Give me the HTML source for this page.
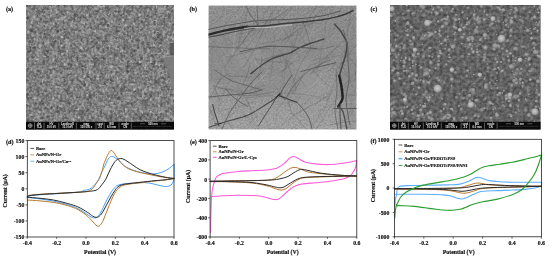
<!DOCTYPE html><html><head><meta charset="utf-8"><title>Figure</title>
<style>html,body{margin:0;padding:0;background:#fff}svg{display:block}text{font-family:"Liberation Serif","DejaVu Serif",serif;font-weight:bold;fill:#111;stroke:#111;stroke-width:0.16px}.bt{stroke:none}</style></head><body>
<svg width="550" height="258" viewBox="0 0 550 258">
<defs>
<filter id="fa" x="0" y="0" width="100%" height="100%" color-interpolation-filters="sRGB">
<feTurbulence type="fractalNoise" baseFrequency="0.38" numOctaves="2" seed="3"/>
<feColorMatrix type="matrix" values="1 0 0 0 0  1 0 0 0 0  1 0 0 0 0  0 0 0 0 1" result="a1"/>
<feTurbulence type="fractalNoise" baseFrequency="0.14" numOctaves="1" seed="8"/>
<feColorMatrix type="matrix" values="1 0 0 0 0  1 0 0 0 0  1 0 0 0 0  0 0 0 0 1" result="a2"/>
<feComposite in="a1" in2="a2" operator="arithmetic" k1="0" k2="0.44" k3="0.24" k4="0.15"/>
<feColorMatrix type="matrix" values="0.83 0 0 0 0  0.83 0 0 0 0  0.83 0 0 0 0  0 0 0 0 1"/>
<feGaussianBlur stdDeviation="0.25" result="base"/>
<feTurbulence type="fractalNoise" baseFrequency="0.36" numOctaves="1" seed="21"/>
<feColorMatrix type="matrix" values="0 0 0 0 0.72  0 0 0 0 0.72  0 0 0 0 0.72  5 0 0 0 -2.95" result="br"/>
<feTurbulence type="fractalNoise" baseFrequency="0.3" numOctaves="1" seed="33"/>
<feColorMatrix type="matrix" values="0 0 0 0 0.29  0 0 0 0 0.29  0 0 0 0 0.29  -5 0 0 0 2.03" result="dk"/>
<feMerge><feMergeNode in="base"/><feMergeNode in="dk"/><feMergeNode in="br"/></feMerge>
</filter>
<filter id="fb" x="0" y="0" width="100%" height="100%" color-interpolation-filters="sRGB">
<feTurbulence type="fractalNoise" baseFrequency="0.6" numOctaves="1" seed="5" result="n"/>
<feColorMatrix in="n" type="matrix" values="0.5 0 0 0 0.32  0.5 0 0 0 0.32  0.5 0 0 0 0.32  0 0 0 0 1"/>
</filter>
<filter id="fc" x="0" y="0" width="100%" height="100%" color-interpolation-filters="sRGB">
<feTurbulence type="fractalNoise" baseFrequency="0.3" numOctaves="2" seed="11" result="n"/>
<feColorMatrix in="n" type="matrix" values="0.36 0 0 0 0.205  0.36 0 0 0 0.205  0.36 0 0 0 0.205  0 0 0 0 1"/>
</filter>
<filter id="bl1" x="-20%" y="-20%" width="140%" height="140%"><feGaussianBlur stdDeviation="0.45"/></filter>
<filter id="bl2" x="-20%" y="-20%" width="140%" height="140%"><feGaussianBlur stdDeviation="0.8"/></filter>
<filter id="bl4" x="-20%" y="-20%" width="140%" height="140%"><feGaussianBlur stdDeviation="3"/></filter>
<filter id="bl5" x="-20%" y="-20%" width="140%" height="140%"><feGaussianBlur stdDeviation="0.55"/></filter>
<filter id="bl3" x="-20%" y="-20%" width="140%" height="140%"><feGaussianBlur stdDeviation="0.3"/></filter>
<radialGradient id="gb" cx="45%" cy="40%" r="60%"><stop offset="0" stop-color="#cacaca"/><stop offset="0.6" stop-color="#a8a8a8"/><stop offset="1" stop-color="#808080" stop-opacity="0.1"/></radialGradient>
<radialGradient id="gs" cx="45%" cy="40%" r="60%"><stop offset="0" stop-color="#b4b4b4"/><stop offset="0.55" stop-color="#9c9c9c" stop-opacity="0.85"/><stop offset="1" stop-color="#808080" stop-opacity="0"/></radialGradient>
<linearGradient id="gbg" x1="0" y1="0" x2="0" y2="1"><stop offset="0" stop-color="#8b8b8b"/><stop offset="0.55" stop-color="#919191"/><stop offset="1" stop-color="#acacac"/></linearGradient>
<clipPath id="ca"><rect x="26" y="5" width="148" height="124.5"/></clipPath>
<clipPath id="cb"><rect x="208.5" y="5.5" width="148" height="124"/></clipPath>
<clipPath id="cc"><rect x="390" y="5" width="150.5" height="124.5"/></clipPath>
</defs>
<rect width="550" height="258" fill="#fff"/>
<text x="5.90" y="10.90" font-size="6.2">(a)</text>
<text x="189.50" y="10.90" font-size="6.2">(b)</text>
<text x="370.50" y="10.90" font-size="6.2">(c)</text>
<g clip-path="url(#ca)">
<rect x="26" y="5" width="148" height="124.5" fill="#7c7c7c"/>
<rect x="26" y="5" width="148" height="124.5" filter="url(#fa)"/>
<path d="M162.5 57.2 L175 55.5 L175 93.5 L172 86 L170 78 L168 70 L165 63 Z" fill="#7b7b7b" opacity="0.92" filter="url(#bl1)"/>
<path d="M160 57.6 L174.5 55.6" stroke="#b4b4b4" stroke-width="0.7" opacity="0.7" filter="url(#bl1)"/>
<rect x="169.6" y="43" width="6" height="12.3" fill="#595959" opacity="0.85" filter="url(#bl1)"/>
<path d="M131.5 60.5 l4 3.5 l3.5 -1.5 M135.5 64 l-1.5 4.5 M135.5 64 l3.5 2.5" stroke="#3e3e3e" stroke-width="0.9" fill="none" opacity="0.5" filter="url(#bl1)"/>
</g>
<g clip-path="url(#cb)">
<rect x="208.5" y="5.5" width="148" height="124" fill="url(#gbg)"/>
<rect x="208.5" y="5.5" width="148" height="124" filter="url(#fb)" opacity="0.45"/>
<g filter="url(#bl4)">
<polygon points="208,40 260,30 340,22 335,60 300,95 240,100 208,80" fill="#808080" opacity="0.35"/>
<polygon points="345,20 357,12 357,130 346,130 340,80" fill="#808080" opacity="0.4"/>
<polygon points="230,45 262,38 268,60 240,70" fill="#9e9e9e" opacity="0.4"/>
<polygon points="290,60 330,62 335,90 300,98" fill="#9c9c9c" opacity="0.4"/>
</g>
<g fill="none" filter="url(#bl1)"><path d="M253.9 35.2 Q251.5 24.0 255.8 14.0" stroke="#4c4c4c" stroke-width="0.45" opacity="0.33"/><path d="M329.9 32.1 Q338.1 26.0 340.6 23.2" stroke="#707070" stroke-width="0.70" opacity="0.37"/><path d="M289.6 95.7 Q289.3 90.2 293.7 81.8" stroke="#686868" stroke-width="0.83" opacity="0.34"/><path d="M344.4 59.2 Q364.4 74.5 380.6 93.2" stroke="#666" stroke-width="0.46" opacity="0.33"/><path d="M319.3 35.3 Q328.6 27.1 340.3 18.9" stroke="#b4b4b4" stroke-width="0.44" opacity="0.23"/><path d="M245.8 97.5 Q250.6 109.5 257.3 118.8" stroke="#5a5a5a" stroke-width="0.92" opacity="0.31"/><path d="M297.2 74.3 Q301.3 81.0 306.1 86.9" stroke="#707070" stroke-width="0.85" opacity="0.46"/><path d="M247.0 65.3 Q260.6 57.9 281.9 45.1" stroke="#707070" stroke-width="0.54" opacity="0.20"/><path d="M268.3 60.1 Q287.0 63.5 299.9 59.8" stroke="#686868" stroke-width="0.62" opacity="0.32"/><path d="M277.7 63.7 Q280.8 59.1 289.4 60.8" stroke="#585858" stroke-width="0.74" opacity="0.22"/><path d="M236.4 60.9 Q250.7 83.9 265.6 107.2" stroke="#666" stroke-width="0.48" opacity="0.42"/><path d="M316.8 72.6 Q323.4 45.7 325.9 22.1" stroke="#666" stroke-width="0.78" opacity="0.28"/><path d="M260.4 37.0 Q279.9 23.0 294.4 5.1" stroke="#4c4c4c" stroke-width="0.51" opacity="0.35"/><path d="M315.4 130.8 Q329.2 106.6 345.2 86.9" stroke="#4c4c4c" stroke-width="0.66" opacity="0.30"/><path d="M277.9 130.3 Q305.7 132.7 329.0 131.1" stroke="#b4b4b4" stroke-width="0.89" opacity="0.33"/><path d="M301.0 27.9 Q305.8 19.4 316.6 16.5" stroke="#b4b4b4" stroke-width="0.84" opacity="0.24"/><path d="M329.8 129.8 Q350.6 130.0 364.4 131.3" stroke="#4c4c4c" stroke-width="0.85" opacity="0.26"/><path d="M243.0 51.4 Q259.4 33.6 273.2 10.8" stroke="#686868" stroke-width="0.85" opacity="0.46"/><path d="M224.7 35.3 Q232.9 32.2 241.5 25.5" stroke="#5a5a5a" stroke-width="0.58" opacity="0.36"/><path d="M288.9 107.4 Q289.8 95.6 298.2 77.4" stroke="#666" stroke-width="0.64" opacity="0.38"/><path d="M281.3 76.4 Q293.5 51.2 298.5 29.8" stroke="#4c4c4c" stroke-width="0.86" opacity="0.24"/><path d="M223.4 68.4 Q239.9 46.1 254.1 26.0" stroke="#606060" stroke-width="0.89" opacity="0.49"/><path d="M238.2 126.6 Q246.3 151.9 255.9 178.4" stroke="#585858" stroke-width="0.58" opacity="0.42"/><path d="M207.9 81.2 Q219.7 78.3 224.7 79.7" stroke="#666" stroke-width="0.45" opacity="0.28"/><path d="M341.8 38.7 Q349.0 47.6 349.5 55.4" stroke="#585858" stroke-width="0.45" opacity="0.22"/><path d="M308.9 66.5 Q318.4 62.6 322.0 59.5" stroke="#585858" stroke-width="0.95" opacity="0.33"/><path d="M343.2 88.9 Q350.0 81.2 359.8 76.5" stroke="#4c4c4c" stroke-width="0.56" opacity="0.35"/><path d="M231.9 57.6 Q239.9 43.4 252.1 30.1" stroke="#686868" stroke-width="0.76" opacity="0.36"/><path d="M339.2 128.6 Q346.4 113.0 356.1 104.5" stroke="#707070" stroke-width="0.41" opacity="0.39"/><path d="M337.9 67.1 Q340.2 56.3 345.8 46.1" stroke="#707070" stroke-width="0.55" opacity="0.20"/><path d="M260.0 55.5 Q262.8 50.6 267.6 46.1" stroke="#4c4c4c" stroke-width="0.54" opacity="0.43"/><path d="M218.7 111.1 Q236.9 108.3 254.6 101.5" stroke="#686868" stroke-width="0.82" opacity="0.42"/><path d="M279.6 50.4 Q290.7 67.5 296.8 90.4" stroke="#5a5a5a" stroke-width="0.85" opacity="0.38"/><path d="M339.8 95.9 Q353.5 93.2 368.0 97.7" stroke="#5a5a5a" stroke-width="0.74" opacity="0.40"/><path d="M278.9 18.4 Q300.5 23.7 322.6 24.0" stroke="#606060" stroke-width="0.53" opacity="0.43"/><path d="M239.8 92.1 Q260.2 87.3 278.3 89.3" stroke="#707070" stroke-width="0.58" opacity="0.40"/><path d="M309.6 88.8 Q322.5 74.4 338.6 59.8" stroke="#b4b4b4" stroke-width="0.66" opacity="0.43"/><path d="M355.0 80.6 Q357.1 52.0 360.0 27.2" stroke="#4c4c4c" stroke-width="0.90" opacity="0.48"/><path d="M216.3 28.3 Q234.1 7.0 248.7 -9.9" stroke="#b4b4b4" stroke-width="0.62" opacity="0.25"/><path d="M348.4 95.7 Q354.5 94.0 356.6 86.8" stroke="#666" stroke-width="0.92" opacity="0.26"/><path d="M206.8 102.3 Q216.3 121.8 220.1 144.8" stroke="#5a5a5a" stroke-width="0.86" opacity="0.29"/><path d="M346.3 46.4 Q370.4 45.3 392.3 37.5" stroke="#4c4c4c" stroke-width="0.80" opacity="0.21"/><path d="M315.6 69.4 Q322.4 61.6 330.6 57.2" stroke="#606060" stroke-width="0.81" opacity="0.49"/><path d="M244.3 92.8 Q259.2 81.9 269.1 70.2" stroke="#b4b4b4" stroke-width="0.90" opacity="0.50"/><path d="M272.9 33.9 Q285.5 12.1 302.8 -2.1" stroke="#686868" stroke-width="0.61" opacity="0.42"/><path d="M236.7 48.8 Q245.0 27.7 247.4 11.2" stroke="#606060" stroke-width="0.89" opacity="0.32"/><path d="M302.5 67.2 Q321.4 82.7 340.5 105.1" stroke="#b4b4b4" stroke-width="0.93" opacity="0.27"/><path d="M221.5 35.6 Q226.7 38.8 227.6 50.0" stroke="#707070" stroke-width="0.53" opacity="0.48"/><path d="M302.5 52.6 Q318.0 46.8 326.5 45.9" stroke="#606060" stroke-width="0.52" opacity="0.38"/><path d="M206.6 52.4 Q218.6 43.5 238.1 36.1" stroke="#606060" stroke-width="0.43" opacity="0.26"/><path d="M338.6 91.8 Q352.1 75.2 367.7 60.3" stroke="#5a5a5a" stroke-width="0.84" opacity="0.42"/><path d="M281.2 41.4 Q289.3 37.8 295.3 32.4" stroke="#4c4c4c" stroke-width="0.67" opacity="0.47"/><path d="M213.5 85.8 Q222.9 89.5 233.0 89.8" stroke="#585858" stroke-width="0.80" opacity="0.50"/><path d="M345.7 55.5 Q367.6 70.9 381.8 87.3" stroke="#666" stroke-width="0.40" opacity="0.28"/><path d="M258.1 126.9 Q264.4 130.8 267.5 139.6" stroke="#b4b4b4" stroke-width="0.51" opacity="0.31"/><path d="M340.4 21.5 Q360.1 16.6 386.7 16.6" stroke="#666" stroke-width="0.89" opacity="0.30"/><path d="M246.1 127.2 Q268.4 130.1 289.1 128.0" stroke="#666" stroke-width="0.41" opacity="0.27"/><path d="M276.8 127.1 Q284.7 137.2 287.8 143.6" stroke="#707070" stroke-width="0.73" opacity="0.30"/><path d="M253.3 59.3 Q272.9 62.0 292.9 64.0" stroke="#707070" stroke-width="0.94" opacity="0.47"/><path d="M354.2 48.2 Q358.4 43.7 363.2 32.9" stroke="#4c4c4c" stroke-width="0.81" opacity="0.45"/><path d="M305.3 31.8 Q312.3 17.5 324.3 7.4" stroke="#606060" stroke-width="0.89" opacity="0.37"/><path d="M254.3 63.2 Q262.0 67.7 270.2 67.1" stroke="#b4b4b4" stroke-width="0.90" opacity="0.21"/><path d="M249.3 31.6 Q261.4 26.8 277.3 17.5" stroke="#5a5a5a" stroke-width="0.46" opacity="0.38"/><path d="M298.6 42.8 Q313.7 22.2 323.7 3.0" stroke="#585858" stroke-width="0.50" opacity="0.29"/><path d="M235.7 108.7 Q234.9 102.5 239.4 93.2" stroke="#686868" stroke-width="0.94" opacity="0.40"/><path d="M268.1 23.9 Q280.6 8.4 294.9 -5.5" stroke="#5a5a5a" stroke-width="0.64" opacity="0.25"/><path d="M222.1 28.3 Q238.3 10.0 247.9 -1.7" stroke="#585858" stroke-width="0.81" opacity="0.25"/><path d="M257.5 36.4 Q266.4 21.9 269.8 14.7" stroke="#b4b4b4" stroke-width="0.57" opacity="0.38"/><path d="M301.1 27.8 Q308.6 16.6 310.6 0.0" stroke="#707070" stroke-width="0.71" opacity="0.21"/><path d="M346.7 35.8 Q351.2 13.3 352.9 -12.0" stroke="#585858" stroke-width="0.46" opacity="0.38"/><path d="M288.1 89.5 Q294.9 99.5 306.9 117.4" stroke="#b4b4b4" stroke-width="0.66" opacity="0.33"/><path d="M298.4 111.4 Q303.3 105.5 309.0 99.5" stroke="#5a5a5a" stroke-width="0.42" opacity="0.24"/><path d="M344.2 53.8 Q344.0 49.0 350.8 42.4" stroke="#666" stroke-width="0.51" opacity="0.49"/><path d="M279.3 127.1 Q293.2 115.0 311.1 105.9" stroke="#606060" stroke-width="0.90" opacity="0.34"/><path d="M243.4 127.9 Q248.2 124.9 258.3 114.9" stroke="#585858" stroke-width="0.89" opacity="0.25"/><path d="M323.5 31.1 Q331.6 8.9 333.3 -9.3" stroke="#686868" stroke-width="0.81" opacity="0.31"/><path d="M261.7 60.1 Q273.8 55.3 285.6 53.6" stroke="#585858" stroke-width="0.80" opacity="0.42"/><path d="M238.5 51.2 Q239.0 27.6 247.1 12.0" stroke="#585858" stroke-width="0.57" opacity="0.36"/><path d="M285.7 65.1 Q309.4 57.9 337.2 56.3" stroke="#666" stroke-width="0.44" opacity="0.24"/><path d="M305.5 48.8 Q311.6 33.5 318.7 11.2" stroke="#b4b4b4" stroke-width="0.54" opacity="0.47"/><path d="M211.6 78.6 Q210.7 57.8 214.6 38.5" stroke="#686868" stroke-width="0.85" opacity="0.25"/><path d="M251.7 52.2 Q260.1 74.4 269.1 92.7" stroke="#b4b4b4" stroke-width="0.50" opacity="0.50"/><path d="M244.5 91.4 Q256.2 87.7 267.0 85.0" stroke="#606060" stroke-width="0.56" opacity="0.48"/><path d="M340.0 27.7 Q350.7 12.4 364.2 -9.1" stroke="#585858" stroke-width="0.73" opacity="0.31"/><path d="M333.6 123.1 Q356.9 130.7 381.1 134.6" stroke="#606060" stroke-width="0.83" opacity="0.32"/><path d="M293.4 82.4 Q299.6 61.0 313.3 45.3" stroke="#5a5a5a" stroke-width="0.78" opacity="0.42"/><path d="M214.9 85.3 Q215.0 90.2 219.7 101.2" stroke="#5a5a5a" stroke-width="0.92" opacity="0.47"/><path d="M318.8 28.0 Q327.0 18.2 337.9 12.3" stroke="#585858" stroke-width="0.54" opacity="0.28"/><path d="M313.1 60.0 Q332.0 56.5 358.4 52.8" stroke="#666" stroke-width="0.59" opacity="0.41"/><path d="M286.2 42.7 Q294.4 28.6 298.6 21.6" stroke="#585858" stroke-width="0.67" opacity="0.35"/><path d="M325.3 39.0 Q348.8 24.4 365.2 14.1" stroke="#707070" stroke-width="0.46" opacity="0.39"/><path d="M217.2 107.8 Q234.2 127.4 247.3 148.2" stroke="#5a5a5a" stroke-width="0.60" opacity="0.29"/><path d="M269.6 80.1 Q274.1 59.2 274.5 35.9" stroke="#585858" stroke-width="0.72" opacity="0.36"/><path d="M336.1 69.3 Q341.2 65.6 347.0 55.8" stroke="#4c4c4c" stroke-width="0.68" opacity="0.28"/><path d="M319.0 112.2 Q326.0 105.5 335.9 103.7" stroke="#666" stroke-width="0.49" opacity="0.40"/><path d="M234.5 35.2 Q249.2 31.8 257.8 29.0" stroke="#5a5a5a" stroke-width="0.62" opacity="0.44"/><path d="M309.7 75.1 Q327.0 57.4 345.3 38.5" stroke="#686868" stroke-width="0.87" opacity="0.40"/><path d="M303.5 118.0 Q313.3 124.1 320.9 136.6" stroke="#686868" stroke-width="0.53" opacity="0.32"/><path d="M312.6 35.8 Q329.1 14.1 348.3 0.1" stroke="#b4b4b4" stroke-width="0.90" opacity="0.23"/><path d="M242.9 42.8 Q255.3 57.0 264.1 71.0" stroke="#585858" stroke-width="0.69" opacity="0.32"/><path d="M348.1 42.0 Q362.4 29.8 380.6 19.6" stroke="#5a5a5a" stroke-width="0.41" opacity="0.33"/><path d="M268.5 97.6 Q281.7 76.1 287.1 47.1" stroke="#b4b4b4" stroke-width="0.52" opacity="0.24"/><path d="M322.3 110.3 Q340.0 99.0 352.4 83.0" stroke="#686868" stroke-width="0.66" opacity="0.29"/><path d="M287.8 32.3 Q312.4 18.0 334.1 4.0" stroke="#606060" stroke-width="0.60" opacity="0.40"/><path d="M253.4 73.3 Q261.0 81.7 263.4 83.6" stroke="#707070" stroke-width="0.69" opacity="0.30"/><path d="M293.0 92.9 Q297.5 86.5 302.8 75.6" stroke="#4c4c4c" stroke-width="0.90" opacity="0.44"/><path d="M230.4 119.6 Q240.0 113.5 246.5 106.9" stroke="#b4b4b4" stroke-width="0.77" opacity="0.24"/><path d="M222.9 65.8 Q226.2 76.2 234.8 85.0" stroke="#5a5a5a" stroke-width="0.49" opacity="0.30"/><path d="M310.1 74.7 Q324.9 56.9 337.6 46.5" stroke="#5a5a5a" stroke-width="0.78" opacity="0.48"/><path d="M254.9 129.9 Q267.2 119.5 273.7 111.1" stroke="#b4b4b4" stroke-width="0.83" opacity="0.37"/><path d="M342.8 50.4 Q352.1 60.0 361.3 73.2" stroke="#585858" stroke-width="0.94" opacity="0.40"/><path d="M324.6 55.7 Q339.4 52.7 353.4 51.1" stroke="#5a5a5a" stroke-width="0.62" opacity="0.23"/><path d="M212.0 111.7 Q223.0 129.7 232.0 144.6" stroke="#666" stroke-width="0.52" opacity="0.40"/><path d="M274.1 104.9 Q290.1 103.3 300.8 97.0" stroke="#606060" stroke-width="0.87" opacity="0.26"/><path d="M210.2 20.3 Q232.2 21.7 255.4 19.9" stroke="#686868" stroke-width="0.65" opacity="0.20"/><path d="M263.5 85.5 Q266.7 90.3 275.4 102.9" stroke="#5a5a5a" stroke-width="0.41" opacity="0.40"/><path d="M354.0 115.9 Q365.4 129.0 381.8 149.4" stroke="#707070" stroke-width="0.80" opacity="0.23"/><path d="M299.9 98.9 Q310.3 99.8 314.5 97.8" stroke="#666" stroke-width="0.61" opacity="0.29"/><path d="M295.6 127.2 Q297.9 149.4 306.0 167.0" stroke="#585858" stroke-width="0.92" opacity="0.25"/><path d="M326.1 72.4 Q334.3 68.2 334.9 60.7" stroke="#585858" stroke-width="0.88" opacity="0.42"/><path d="M207.3 35.2 Q222.9 52.0 232.1 63.9" stroke="#606060" stroke-width="0.78" opacity="0.30"/><path d="M245.5 35.9 Q250.3 29.2 247.5 17.7" stroke="#b4b4b4" stroke-width="0.59" opacity="0.23"/><path d="M288.6 108.9 Q296.8 119.0 309.7 133.0" stroke="#5a5a5a" stroke-width="0.84" opacity="0.34"/><path d="M218.2 109.9 Q222.5 95.4 226.8 85.6" stroke="#4c4c4c" stroke-width="0.51" opacity="0.25"/><path d="M310.9 59.4 Q317.5 70.5 330.5 79.4" stroke="#666" stroke-width="0.49" opacity="0.38"/><path d="M257.1 77.2 Q262.8 65.1 261.6 56.5" stroke="#666" stroke-width="0.92" opacity="0.43"/><path d="M328.6 127.8 Q334.2 128.2 341.9 125.2" stroke="#b4b4b4" stroke-width="0.92" opacity="0.47"/><path d="M214.7 86.2 Q242.4 82.4 267.5 80.3" stroke="#b4b4b4" stroke-width="0.87" opacity="0.31"/><path d="M240.5 100.2 Q260.2 96.6 287.1 88.4" stroke="#b4b4b4" stroke-width="0.43" opacity="0.24"/><path d="M319.0 125.1 Q328.7 114.9 340.1 106.7" stroke="#686868" stroke-width="0.49" opacity="0.27"/><path d="M226.6 95.3 Q233.7 89.7 239.0 86.2" stroke="#707070" stroke-width="0.83" opacity="0.49"/><path d="M344.8 61.9 Q360.4 53.2 381.6 49.0" stroke="#5a5a5a" stroke-width="0.50" opacity="0.34"/><path d="M339.3 68.0 Q344.4 57.3 354.9 46.7" stroke="#585858" stroke-width="0.65" opacity="0.34"/><path d="M228.2 76.5 Q237.3 75.8 251.2 77.2" stroke="#606060" stroke-width="0.95" opacity="0.48"/><path d="M219.7 51.0 Q235.0 54.0 250.2 56.8" stroke="#b4b4b4" stroke-width="0.40" opacity="0.45"/><path d="M284.5 39.2 Q297.4 28.2 314.6 22.5" stroke="#666" stroke-width="0.86" opacity="0.47"/><path d="M315.4 104.8 Q320.0 100.3 331.7 92.0" stroke="#686868" stroke-width="0.86" opacity="0.47"/><path d="M283.3 57.6 Q291.0 61.7 296.2 69.8" stroke="#585858" stroke-width="0.42" opacity="0.41"/><path d="M291.8 115.8 Q315.5 103.2 333.3 93.5" stroke="#686868" stroke-width="0.72" opacity="0.47"/><path d="M249.0 30.3 Q265.3 8.3 286.0 -8.5" stroke="#666" stroke-width="0.57" opacity="0.37"/><path d="M349.3 20.2 Q356.4 33.4 360.3 52.9" stroke="#666" stroke-width="0.79" opacity="0.21"/><path d="M223.6 74.3 Q222.6 64.8 226.0 52.6" stroke="#b4b4b4" stroke-width="0.81" opacity="0.25"/><path d="M329.7 124.9 Q351.0 120.2 374.8 119.6" stroke="#585858" stroke-width="0.79" opacity="0.45"/><path d="M290.2 130.4 Q298.0 123.8 307.1 115.1" stroke="#585858" stroke-width="0.46" opacity="0.26"/><path d="M254.0 40.9 Q267.7 60.0 276.5 73.0" stroke="#5a5a5a" stroke-width="0.42" opacity="0.39"/><path d="M245.1 95.3 Q243.9 85.4 247.0 82.9" stroke="#666" stroke-width="0.57" opacity="0.39"/><path d="M223.2 85.7 Q234.4 78.1 245.5 64.3" stroke="#686868" stroke-width="0.72" opacity="0.28"/><path d="M316.1 102.4 Q319.8 81.9 324.0 60.6" stroke="#b4b4b4" stroke-width="0.66" opacity="0.29"/><path d="M241.6 43.3 Q248.7 31.7 258.7 23.8" stroke="#4c4c4c" stroke-width="0.56" opacity="0.43"/><path d="M228.9 25.6 Q249.8 30.0 262.8 31.5" stroke="#707070" stroke-width="0.63" opacity="0.40"/><path d="M226.2 41.1 Q235.8 50.3 243.2 57.3" stroke="#707070" stroke-width="0.63" opacity="0.23"/><path d="M267.0 80.7 Q290.1 68.9 311.5 58.9" stroke="#b4b4b4" stroke-width="0.78" opacity="0.29"/><path d="M258.2 58.2 Q267.5 67.7 279.9 76.6" stroke="#707070" stroke-width="0.64" opacity="0.31"/><path d="M240.0 111.7 Q260.1 126.9 272.9 149.7" stroke="#606060" stroke-width="0.71" opacity="0.35"/><path d="M344.0 106.2 Q348.4 121.3 360.3 133.7" stroke="#b4b4b4" stroke-width="0.92" opacity="0.40"/><path d="M284.3 29.3 Q291.7 44.7 300.0 58.2" stroke="#585858" stroke-width="0.78" opacity="0.42"/><path d="M218.9 59.3 Q234.5 47.0 244.9 26.8" stroke="#686868" stroke-width="0.75" opacity="0.36"/><path d="M328.2 41.7 Q332.1 10.8 333.9 -12.8" stroke="#686868" stroke-width="0.41" opacity="0.20"/><path d="M312.3 81.0 Q323.9 66.7 334.6 56.1" stroke="#707070" stroke-width="0.72" opacity="0.32"/><path d="M223.3 35.9 Q239.0 46.3 249.8 63.7" stroke="#5a5a5a" stroke-width="0.78" opacity="0.37"/><path d="M226.7 45.2 Q239.6 41.8 253.3 40.2" stroke="#5a5a5a" stroke-width="0.52" opacity="0.32"/><path d="M320.4 23.0 Q331.0 15.2 335.3 2.3" stroke="#606060" stroke-width="0.63" opacity="0.28"/><path d="M338.9 129.7 Q350.5 153.9 362.3 173.4" stroke="#4c4c4c" stroke-width="0.45" opacity="0.25"/><path d="M262.2 18.9 Q268.3 4.7 281.3 -3.4" stroke="#585858" stroke-width="0.70" opacity="0.32"/><path d="M275.5 57.3 Q278.5 53.6 285.2 44.6" stroke="#707070" stroke-width="0.71" opacity="0.34"/><path d="M325.0 45.4 Q342.8 23.6 360.5 6.1" stroke="#b4b4b4" stroke-width="0.77" opacity="0.48"/><path d="M355.7 85.9 Q374.9 75.1 400.1 64.1" stroke="#606060" stroke-width="0.80" opacity="0.43"/><path d="M209.3 99.9 Q216.6 85.3 221.3 77.0" stroke="#585858" stroke-width="0.84" opacity="0.43"/><path d="M234.1 99.9 Q250.2 121.4 260.1 137.0" stroke="#707070" stroke-width="0.92" opacity="0.25"/><path d="M260.4 109.1 Q266.8 119.0 271.3 134.0" stroke="#666" stroke-width="0.55" opacity="0.38"/><path d="M238.1 95.2 Q256.9 96.8 273.6 91.4" stroke="#4c4c4c" stroke-width="0.71" opacity="0.41"/><path d="M243.5 67.6 Q258.0 45.7 266.5 22.4" stroke="#5a5a5a" stroke-width="0.94" opacity="0.40"/><path d="M210.6 54.3 Q215.8 28.2 224.4 8.7" stroke="#686868" stroke-width="0.64" opacity="0.30"/><path d="M281.0 96.5 Q286.4 72.4 287.4 48.5" stroke="#4c4c4c" stroke-width="0.42" opacity="0.41"/><path d="M326.7 47.8 Q335.1 44.3 345.9 47.4" stroke="#606060" stroke-width="0.48" opacity="0.41"/><path d="M278.5 73.0 Q287.2 68.4 292.6 62.3" stroke="#4c4c4c" stroke-width="0.58" opacity="0.44"/><path d="M287.8 104.7 Q292.8 98.4 301.1 94.2" stroke="#4c4c4c" stroke-width="0.42" opacity="0.47"/><path d="M250.9 30.6 Q252.7 18.6 261.4 14.5" stroke="#b4b4b4" stroke-width="0.45" opacity="0.42"/><path d="M353.0 82.3 Q362.9 76.7 379.4 74.5" stroke="#606060" stroke-width="0.76" opacity="0.22"/><path d="M317.9 20.9 Q324.0 12.4 326.6 7.0" stroke="#585858" stroke-width="0.61" opacity="0.39"/><path d="M258.8 44.2 Q277.4 42.0 293.9 34.6" stroke="#686868" stroke-width="0.90" opacity="0.48"/><path d="M279.7 74.9 Q286.3 67.1 290.7 60.8" stroke="#5a5a5a" stroke-width="0.87" opacity="0.34"/><path d="M238.0 60.5 Q257.2 53.3 276.2 47.3" stroke="#585858" stroke-width="0.43" opacity="0.20"/><path d="M349.4 38.1 Q348.8 26.9 354.9 18.5" stroke="#b4b4b4" stroke-width="0.64" opacity="0.36"/><path d="M299.5 35.6 Q307.4 19.6 318.6 2.5" stroke="#585858" stroke-width="0.66" opacity="0.39"/><path d="M250.2 57.1 Q259.8 59.2 268.2 60.4" stroke="#686868" stroke-width="0.60" opacity="0.27"/><path d="M271.6 47.8 Q280.5 32.7 294.3 14.9" stroke="#b4b4b4" stroke-width="0.52" opacity="0.34"/><path d="M286.7 97.4 Q289.5 105.9 292.3 114.3" stroke="#666" stroke-width="0.74" opacity="0.49"/><path d="M282.8 70.4 Q293.9 67.4 300.6 71.5" stroke="#4c4c4c" stroke-width="0.43" opacity="0.21"/><path d="M311.0 126.9 Q323.8 114.5 329.9 96.1" stroke="#707070" stroke-width="0.60" opacity="0.45"/><path d="M326.4 101.9 Q335.4 85.3 351.6 67.0" stroke="#666" stroke-width="0.60" opacity="0.30"/><path d="M296.1 21.9 Q299.6 6.4 298.4 -8.9" stroke="#666" stroke-width="0.84" opacity="0.26"/><path d="M288.7 51.1 Q298.9 27.5 316.9 6.5" stroke="#707070" stroke-width="0.67" opacity="0.35"/><path d="M209.8 113.4 Q225.4 97.9 241.8 86.6" stroke="#666" stroke-width="0.60" opacity="0.36"/><path d="M252.0 32.9 Q256.4 42.2 263.1 59.4" stroke="#b4b4b4" stroke-width="0.58" opacity="0.21"/><path d="M274.4 130.4 Q277.4 104.0 282.7 76.5" stroke="#707070" stroke-width="0.95" opacity="0.21"/><path d="M289.7 105.9 Q305.4 93.6 325.3 76.6" stroke="#707070" stroke-width="0.77" opacity="0.29"/><path d="M320.3 102.3 Q342.8 104.4 362.5 100.4" stroke="#b4b4b4" stroke-width="0.68" opacity="0.47"/><path d="M327.2 131.6 Q333.3 145.5 342.5 164.7" stroke="#666" stroke-width="0.48" opacity="0.42"/><path d="M243.1 83.2 Q247.1 77.8 249.8 64.7" stroke="#585858" stroke-width="0.93" opacity="0.41"/><path d="M313.9 123.1 Q324.0 104.1 338.3 92.8" stroke="#5a5a5a" stroke-width="0.62" opacity="0.26"/><path d="M296.0 116.5 Q306.1 117.4 311.2 117.1" stroke="#707070" stroke-width="0.40" opacity="0.28"/><path d="M302.0 19.7 Q307.9 32.4 310.9 47.8" stroke="#5a5a5a" stroke-width="0.87" opacity="0.44"/><path d="M218.2 87.9 Q244.4 94.7 269.6 93.8" stroke="#5a5a5a" stroke-width="0.63" opacity="0.41"/><path d="M331.1 35.9 Q342.4 26.2 353.0 15.1" stroke="#707070" stroke-width="0.76" opacity="0.38"/><path d="M255.0 102.5 Q259.0 74.1 263.8 49.2" stroke="#606060" stroke-width="0.47" opacity="0.20"/><path d="M276.8 92.7 Q303.8 92.7 328.8 98.7" stroke="#4c4c4c" stroke-width="0.71" opacity="0.25"/><path d="M346.9 59.7 Q361.7 55.7 373.1 52.7" stroke="#b4b4b4" stroke-width="0.52" opacity="0.47"/><path d="M341.1 62.3 Q348.6 78.7 358.6 99.4" stroke="#686868" stroke-width="0.63" opacity="0.48"/><path d="M347.7 89.5 Q354.8 77.2 363.1 68.5" stroke="#b4b4b4" stroke-width="0.52" opacity="0.37"/><path d="M228.7 116.4 Q236.6 110.9 238.6 109.4" stroke="#585858" stroke-width="0.78" opacity="0.38"/><path d="M273.4 84.0 Q282.2 96.0 285.2 100.0" stroke="#606060" stroke-width="0.78" opacity="0.44"/><path d="M227.9 122.0 Q237.0 137.3 252.7 155.2" stroke="#686868" stroke-width="0.89" opacity="0.49"/><path d="M210.0 44.7 Q222.7 59.1 231.7 80.7" stroke="#585858" stroke-width="0.44" opacity="0.23"/><path d="M349.5 128.6 Q350.8 111.3 358.2 96.2" stroke="#b4b4b4" stroke-width="0.93" opacity="0.22"/><path d="M351.5 115.3 Q351.6 108.8 359.0 102.3" stroke="#686868" stroke-width="0.83" opacity="0.49"/><path d="M245.3 55.1 Q252.8 42.9 263.1 32.0" stroke="#707070" stroke-width="0.61" opacity="0.32"/><path d="M266.9 34.3 Q274.0 15.5 273.3 -8.6" stroke="#666" stroke-width="0.45" opacity="0.39"/><path d="M210.1 99.7 Q220.9 124.1 239.7 144.6" stroke="#b4b4b4" stroke-width="0.68" opacity="0.38"/><path d="M355.2 44.7 Q358.7 35.8 359.6 21.7" stroke="#666" stroke-width="0.75" opacity="0.36"/><path d="M238.7 87.8 Q249.9 101.2 253.0 121.5" stroke="#585858" stroke-width="0.69" opacity="0.36"/><path d="M327.8 45.2 Q339.2 45.0 352.9 38.9" stroke="#686868" stroke-width="0.47" opacity="0.25"/><path d="M243.0 29.7 Q249.2 36.9 256.3 50.3" stroke="#b4b4b4" stroke-width="0.80" opacity="0.25"/><path d="M283.1 18.7 Q288.7 24.9 293.4 39.1" stroke="#606060" stroke-width="0.43" opacity="0.25"/><path d="M313.4 49.3 Q323.0 50.0 333.9 46.1" stroke="#585858" stroke-width="0.91" opacity="0.42"/><path d="M261.7 22.8 Q275.1 19.7 287.2 9.8" stroke="#4c4c4c" stroke-width="0.94" opacity="0.46"/><path d="M292.6 25.2 Q305.0 41.2 310.9 53.1" stroke="#5a5a5a" stroke-width="0.46" opacity="0.37"/><path d="M346.2 97.9 Q364.1 91.8 376.8 83.0" stroke="#4c4c4c" stroke-width="0.62" opacity="0.21"/><path d="M307.7 81.1 Q312.5 84.1 323.9 83.0" stroke="#b4b4b4" stroke-width="0.43" opacity="0.40"/><path d="M312.4 73.0 Q333.0 64.0 359.4 57.6" stroke="#5a5a5a" stroke-width="0.50" opacity="0.36"/><path d="M283.5 27.9 Q294.0 25.4 308.5 24.9" stroke="#686868" stroke-width="0.87" opacity="0.28"/><path d="M235.5 23.9 Q252.4 5.0 271.8 -13.3" stroke="#5a5a5a" stroke-width="0.80" opacity="0.20"/><path d="M215.2 126.5 Q227.0 105.6 237.3 85.5" stroke="#b4b4b4" stroke-width="0.51" opacity="0.26"/><path d="M232.2 115.8 Q257.5 111.2 281.9 101.8" stroke="#b4b4b4" stroke-width="0.52" opacity="0.42"/><path d="M318.0 109.4 Q323.5 120.4 324.4 124.2" stroke="#686868" stroke-width="0.52" opacity="0.45"/><path d="M311.6 68.4 Q318.2 77.8 329.0 85.9" stroke="#585858" stroke-width="0.79" opacity="0.42"/><path d="M251.7 47.4 Q262.0 45.5 277.8 46.9" stroke="#666" stroke-width="0.51" opacity="0.24"/><path d="M232.8 56.0 Q233.4 37.6 237.4 21.7" stroke="#b4b4b4" stroke-width="0.89" opacity="0.47"/><path d="M235.3 49.9 Q247.5 38.4 263.0 25.6" stroke="#666" stroke-width="0.93" opacity="0.30"/><path d="M347.6 92.8 Q355.6 88.9 358.2 79.9" stroke="#b4b4b4" stroke-width="0.45" opacity="0.37"/><path d="M324.0 85.9 Q333.7 69.4 338.1 59.6" stroke="#707070" stroke-width="0.60" opacity="0.40"/><path d="M218.6 18.6 Q225.8 14.4 233.1 9.6" stroke="#666" stroke-width="0.58" opacity="0.27"/><path d="M290.8 22.8 Q310.3 10.7 329.1 2.7" stroke="#666" stroke-width="0.41" opacity="0.48"/><path d="M278.7 108.2 Q294.1 86.8 310.7 63.5" stroke="#666" stroke-width="0.56" opacity="0.47"/><path d="M217.7 84.0 Q222.2 75.8 229.2 74.0" stroke="#4c4c4c" stroke-width="0.74" opacity="0.41"/><path d="M328.0 57.0 Q341.7 74.2 362.9 86.8" stroke="#707070" stroke-width="0.80" opacity="0.40"/><path d="M227.8 57.3 Q249.9 51.2 272.3 45.2" stroke="#585858" stroke-width="0.90" opacity="0.43"/><path d="M301.1 40.7 Q318.9 30.3 331.9 20.1" stroke="#b4b4b4" stroke-width="0.47" opacity="0.45"/><path d="M346.5 121.1 Q352.7 109.2 351.5 96.8" stroke="#666" stroke-width="0.44" opacity="0.43"/><path d="M326.1 103.6 Q336.0 81.2 342.9 55.4" stroke="#686868" stroke-width="0.76" opacity="0.32"/><path d="M299.6 106.2 Q320.8 96.2 335.5 87.4" stroke="#606060" stroke-width="0.40" opacity="0.35"/><path d="M207.5 30.6 Q211.9 24.6 218.0 19.1" stroke="#5a5a5a" stroke-width="0.56" opacity="0.23"/><path d="M245.9 97.9 Q263.1 95.9 274.0 95.6" stroke="#585858" stroke-width="0.93" opacity="0.31"/><path d="M238.9 119.4 Q247.8 100.8 255.0 76.4" stroke="#707070" stroke-width="0.62" opacity="0.20"/><path d="M333.9 29.8 Q341.8 10.2 345.7 -12.1" stroke="#707070" stroke-width="0.91" opacity="0.47"/><path d="M305.6 26.7 Q323.6 44.2 336.7 68.8" stroke="#b4b4b4" stroke-width="0.67" opacity="0.41"/><path d="M207.7 117.8 Q221.0 95.6 230.3 80.8" stroke="#585858" stroke-width="0.67" opacity="0.20"/><path d="M346.4 48.9 Q347.1 31.4 351.3 9.7" stroke="#606060" stroke-width="0.83" opacity="0.21"/><path d="M287.8 64.5 Q302.2 48.6 320.1 38.1" stroke="#b4b4b4" stroke-width="0.85" opacity="0.44"/><path d="M257.4 33.9 Q272.0 16.3 285.2 -8.8" stroke="#585858" stroke-width="0.93" opacity="0.26"/></g>
<path d="M208.50 34.70C211.38 33.98 219.28 31.75 225.80 30.40C232.32 29.05 243.97 27.23 247.60 26.60" fill="none" stroke="#2c2c2c" stroke-width="2.38" stroke-linecap="round" filter="url(#bl5)"/>
<path d="M247.60 26.60C250.15 26.50 257.43 26.45 262.90 26.00C268.37 25.55 273.85 24.57 280.40 23.90C286.95 23.23 294.93 22.73 302.20 22.00C309.47 21.27 318.03 20.42 324.00 19.50C329.97 18.58 334.28 17.45 338.00 16.50C341.72 15.55 343.80 14.80 346.30 13.80C348.80 12.80 351.88 11.05 353.00 10.50" fill="none" stroke="#3a3a3a" stroke-width="1.50" stroke-linecap="round" filter="url(#bl5)"/>
<path d="M208.50 29.50C210.75 29.00 217.30 27.45 222.00 26.50C226.70 25.55 230.62 24.80 236.70 23.80C242.78 22.80 251.28 21.17 258.50 20.50C265.72 19.83 272.75 20.13 280.00 19.80C287.25 19.47 294.67 19.22 302.00 18.50C309.33 17.78 317.67 16.75 324.00 15.50C330.33 14.25 337.33 11.75 340.00 11.00" fill="none" stroke="#555" stroke-width="1.00" stroke-linecap="round" filter="url(#bl5)"/>
<path d="M208.50 37.20C210.75 36.77 216.75 35.72 222.00 34.60C227.25 33.48 234.50 31.60 240.00 30.50C245.50 29.40 252.50 28.42 255.00 28.00" fill="none" stroke="#4a4a4a" stroke-width="1.12" stroke-linecap="round" filter="url(#bl5)"/>
<path d="M250.90 73.60C252.75 72.17 258.37 67.53 262.00 65.00C265.63 62.47 268.00 60.42 272.70 58.40C277.40 56.38 286.02 54.55 290.20 52.90C294.38 51.25 294.50 50.07 297.80 48.50C301.10 46.93 305.63 45.08 310.00 43.50C314.37 41.92 321.67 39.75 324.00 39.00" fill="none" stroke="#444" stroke-width="1.38" stroke-linecap="round" filter="url(#bl5)"/>
<path d="M240.00 51.80C242.50 51.25 250.27 49.40 255.00 48.50C259.73 47.60 263.40 46.72 268.40 46.40C273.40 46.08 279.57 46.42 285.00 46.60C290.43 46.78 295.77 47.18 301.00 47.50C306.23 47.82 313.83 48.33 316.40 48.50" fill="none" stroke="#555" stroke-width="1.00" stroke-linecap="round" filter="url(#bl5)"/>
<path d="M301.00 71.50C303.83 70.75 312.17 68.47 318.00 67.00C323.83 65.53 333.00 63.42 336.00 62.70" fill="none" stroke="#5a5a5a" stroke-width="1.00" stroke-linecap="round" filter="url(#bl5)"/>
<path d="M334.50 24.00C335.25 24.83 337.65 27.27 339.00 29.00C340.35 30.73 341.28 32.05 342.60 34.40C343.92 36.75 346.37 39.83 346.90 43.10C347.43 46.37 346.52 50.37 345.80 54.00C345.08 57.63 343.68 61.27 342.60 64.90C341.52 68.53 339.85 73.98 339.30 75.80" fill="none" stroke="#464646" stroke-width="1.50" stroke-linecap="round" filter="url(#bl5)"/>
<path d="M339.30 75.80C339.52 76.83 340.23 80.15 340.60 82.00C340.97 83.85 341.17 84.27 341.50 86.90C341.83 89.53 342.78 95.12 342.60 97.80C342.42 100.48 341.13 101.55 340.40 103.00C339.67 104.45 338.57 105.92 338.20 106.50" fill="none" stroke="#232323" stroke-width="2.50" stroke-linecap="round" filter="url(#bl5)"/>
<path d="M338.20 106.50C338.93 107.23 341.47 108.65 342.60 110.90C343.73 113.15 344.28 116.98 345.00 120.00C345.72 123.02 346.58 127.50 346.90 129.00" fill="none" stroke="#4a4a4a" stroke-width="1.25" stroke-linecap="round" filter="url(#bl5)"/>
<path d="M340.40 104.00C340.33 105.83 339.90 110.83 340.00 115.00C340.10 119.17 340.83 126.67 341.00 129.00" fill="none" stroke="#555" stroke-width="1.12" stroke-linecap="round" filter="url(#bl5)"/>
<path d="M333.80 108.70C335.67 108.73 341.00 108.90 345.00 108.90C349.00 108.90 355.67 108.73 357.80 108.70" fill="none" stroke="#4a4a4a" stroke-width="1.12" stroke-linecap="round" filter="url(#bl5)"/>
<path d="M343.30 30.00C344.00 32.67 346.72 41.00 347.50 46.00C348.28 51.00 347.75 54.33 348.00 60.00C348.25 65.67 349.33 73.33 349.00 80.00C348.67 86.67 345.83 92.50 346.00 100.00C346.17 107.50 349.33 120.83 350.00 125.00" fill="none" stroke="#5e5e5e" stroke-width="1.00" stroke-linecap="round" filter="url(#bl5)"/>
<path d="M336.00 70.00C336.17 73.33 337.17 83.33 337.00 90.00C336.83 96.67 334.83 103.50 335.00 110.00C335.17 116.50 337.50 125.83 338.00 129.00" fill="none" stroke="#666" stroke-width="0.88" stroke-linecap="round" filter="url(#bl5)"/>
<path d="M246.00 6.00C246.67 7.33 248.33 11.33 250.00 14.00C251.67 16.67 254.67 20.00 256.00 22.00C257.33 24.00 257.67 25.33 258.00 26.00" fill="none" stroke="#5a5a5a" stroke-width="0.81" stroke-linecap="round" filter="url(#bl5)"/>
<path d="M257.00 6.00C257.08 7.33 257.33 10.83 257.50 14.00C257.67 17.17 257.92 23.17 258.00 25.00" fill="none" stroke="#606060" stroke-width="0.75" stroke-linecap="round" filter="url(#bl5)"/>
<path d="M258.50 126.00C259.42 124.50 262.17 119.88 264.00 117.00C265.83 114.12 267.83 111.28 269.50 108.70C271.17 106.12 272.92 103.32 274.00 101.50C275.08 99.68 275.67 98.42 276.00 97.80" fill="none" stroke="#505050" stroke-width="1.00" stroke-linecap="round" filter="url(#bl5)"/>
<path d="M276.00 97.80C276.40 97.37 277.67 95.92 278.40 95.20C279.13 94.48 280.07 93.78 280.40 93.50" fill="none" stroke="#2e2e2e" stroke-width="1.50" stroke-linecap="round" filter="url(#bl5)"/>
<path d="M280.40 93.50C280.92 92.58 282.42 89.83 283.50 88.00C284.58 86.17 285.48 84.67 286.90 82.50C288.32 80.33 291.15 76.25 292.00 75.00" fill="none" stroke="#555" stroke-width="1.00" stroke-linecap="round" filter="url(#bl5)"/>
<path d="M279.30 95.60C280.75 96.17 285.10 97.90 288.00 99.00C290.90 100.10 295.25 101.67 296.70 102.20" fill="none" stroke="#3a3a3a" stroke-width="1.25" stroke-linecap="round" filter="url(#bl5)"/>
<path d="M296.70 102.20C297.75 103.33 301.00 106.45 303.00 109.00C305.00 111.55 307.20 114.17 308.70 117.50C310.20 120.83 311.45 127.08 312.00 129.00" fill="none" stroke="#5a5a5a" stroke-width="0.94" stroke-linecap="round" filter="url(#bl5)"/>
<path d="M208.80 127.30C211.50 126.42 218.53 124.00 225.00 122.00C231.47 120.00 241.43 117.80 247.60 115.30C253.77 112.80 257.27 109.88 262.00 107.00C266.73 104.12 273.67 99.50 276.00 98.00" fill="none" stroke="#4a4a4a" stroke-width="1.06" stroke-linecap="round" filter="url(#bl5)"/>
<path d="M212.70 104.40C213.00 105.67 213.78 109.47 214.50 112.00C215.22 114.53 216.25 117.27 217.00 119.60C217.75 121.93 218.67 124.93 219.00 126.00" fill="none" stroke="#444" stroke-width="1.06" stroke-linecap="round" filter="url(#bl5)"/>
<path d="M225.80 89.00C226.83 90.17 229.63 93.83 232.00 96.00C234.37 98.17 237.40 100.25 240.00 102.00C242.60 103.75 246.33 105.75 247.60 106.50" fill="none" stroke="#5c5c5c" stroke-width="0.88" stroke-linecap="round" filter="url(#bl5)"/>
<path d="M208.50 97.00C212.08 96.67 223.08 95.67 230.00 95.00C236.92 94.33 244.67 93.83 250.00 93.00C255.33 92.17 260.00 90.50 262.00 90.00" fill="none" stroke="#5a5a5a" stroke-width="0.94" stroke-linecap="round" filter="url(#bl5)"/>
<path d="M215.00 70.00C217.50 71.67 225.00 77.50 230.00 80.00C235.00 82.50 239.67 83.33 245.00 85.00C250.33 86.67 259.17 89.17 262.00 90.00" fill="none" stroke="#606060" stroke-width="0.88" stroke-linecap="round" filter="url(#bl5)"/>
<path d="M222.00 129.00C223.33 126.17 227.00 117.17 230.00 112.00C233.00 106.83 236.33 103.00 240.00 98.00C243.67 93.00 248.33 86.33 252.00 82.00C255.67 77.67 260.33 73.67 262.00 72.00" fill="none" stroke="#5a5a5a" stroke-width="0.88" stroke-linecap="round" filter="url(#bl5)"/>
<path d="M285.00 100.00C286.67 97.33 290.83 89.00 295.00 84.00C299.17 79.00 304.17 74.00 310.00 70.00C315.83 66.00 326.67 61.67 330.00 60.00" fill="none" stroke="#6a6a6a" stroke-width="0.88" stroke-linecap="round" filter="url(#bl5)"/>
<path d="M208.80 46.70C214.00 46.92 229.88 47.63 240.00 48.00C250.12 48.37 264.58 48.75 269.50 48.90" fill="none" stroke="#6a6a6a" stroke-width="0.88" stroke-linecap="round" filter="url(#bl5)"/>
<path d="M244.00 28.40C245.83 28.25 251.00 27.67 255.00 27.50C259.00 27.33 263.83 27.62 268.00 27.40C272.17 27.18 276.00 26.63 280.00 26.20C284.00 25.77 290.00 25.03 292.00 24.80" fill="none" stroke="#dcdcdc" stroke-width="0.8" opacity="0.7" filter="url(#bl3)"/>
<text x="214.00" y="124.00" font-size="2.60" text-anchor="start" class="bt" fill="#222" style="font-weight:normal">100 nm</text>
</g>
<g clip-path="url(#cc)">
<rect x="390" y="5" width="150.5" height="124.5" fill="#606060"/>
<rect x="390" y="5" width="150.5" height="124.5" filter="url(#fc)"/>
<g filter="url(#bl3)"><ellipse cx="436.7" cy="115.4" rx="1.11" ry="0.96" fill="url(#gs)" opacity="0.63"/><ellipse cx="449.5" cy="50.1" rx="1.81" ry="2.39" fill="url(#gs)" opacity="0.73"/><ellipse cx="516.4" cy="79.5" rx="1.58" ry="2.02" fill="url(#gs)" opacity="0.74"/><ellipse cx="474.4" cy="83.5" rx="1.44" ry="1.24" fill="url(#gs)" opacity="0.64"/><ellipse cx="485.2" cy="35.4" rx="2.83" ry="2.60" fill="url(#gs)" opacity="0.97"/><ellipse cx="430.1" cy="33.5" rx="1.08" ry="1.05" fill="url(#gs)" opacity="0.71"/><ellipse cx="512.0" cy="18.0" rx="1.51" ry="1.34" fill="url(#gs)" opacity="0.85"/><ellipse cx="507.0" cy="51.2" rx="1.90" ry="1.94" fill="url(#gs)" opacity="0.90"/><ellipse cx="442.8" cy="26.7" rx="1.96" ry="2.08" fill="url(#gs)" opacity="0.95"/><ellipse cx="410.2" cy="44.6" rx="0.98" ry="1.12" fill="url(#gs)" opacity="0.83"/><ellipse cx="477.3" cy="52.2" rx="1.81" ry="1.77" fill="url(#gs)" opacity="0.92"/><ellipse cx="412.8" cy="83.6" rx="2.09" ry="2.09" fill="url(#gs)" opacity="0.87"/><ellipse cx="514.0" cy="80.9" rx="2.11" ry="2.11" fill="url(#gs)" opacity="0.81"/><ellipse cx="431.5" cy="12.9" rx="1.48" ry="1.44" fill="url(#gs)" opacity="0.61"/><ellipse cx="404.2" cy="84.1" rx="1.95" ry="2.23" fill="url(#gs)" opacity="0.54"/><ellipse cx="516.6" cy="43.0" rx="0.77" ry="0.82" fill="url(#gs)" opacity="0.53"/><ellipse cx="457.3" cy="69.9" rx="0.80" ry="0.84" fill="url(#gs)" opacity="0.81"/><ellipse cx="441.4" cy="43.7" rx="1.77" ry="1.40" fill="url(#gs)" opacity="0.92"/><ellipse cx="512.1" cy="67.8" rx="0.76" ry="0.94" fill="url(#gs)" opacity="0.71"/><ellipse cx="399.5" cy="78.7" rx="1.70" ry="1.78" fill="url(#gs)" opacity="0.79"/><ellipse cx="424.2" cy="106.5" rx="2.48" ry="1.95" fill="url(#gs)" opacity="0.99"/><ellipse cx="400.8" cy="60.9" rx="1.14" ry="1.15" fill="url(#gs)" opacity="0.73"/><ellipse cx="441.6" cy="27.2" rx="1.21" ry="1.51" fill="url(#gs)" opacity="0.76"/><ellipse cx="456.2" cy="28.1" rx="1.58" ry="1.79" fill="url(#gs)" opacity="0.85"/><ellipse cx="536.9" cy="92.5" rx="2.22" ry="2.22" fill="url(#gs)" opacity="0.53"/><ellipse cx="421.1" cy="6.5" rx="2.04" ry="1.75" fill="url(#gs)" opacity="0.68"/><ellipse cx="414.7" cy="79.0" rx="1.71" ry="1.82" fill="url(#gs)" opacity="0.68"/><ellipse cx="525.7" cy="99.1" rx="1.22" ry="1.25" fill="url(#gs)" opacity="0.89"/><ellipse cx="461.2" cy="120.9" rx="1.98" ry="2.25" fill="url(#gs)" opacity="0.56"/><ellipse cx="406.4" cy="70.9" rx="1.36" ry="1.22" fill="url(#gs)" opacity="0.95"/><ellipse cx="497.2" cy="115.6" rx="2.27" ry="1.98" fill="url(#gs)" opacity="0.91"/><ellipse cx="517.0" cy="20.7" rx="0.95" ry="0.87" fill="url(#gs)" opacity="0.50"/><ellipse cx="515.4" cy="97.0" rx="2.85" ry="2.33" fill="url(#gs)" opacity="0.66"/><ellipse cx="484.3" cy="108.6" rx="1.31" ry="1.33" fill="url(#gs)" opacity="0.95"/><ellipse cx="447.8" cy="17.2" rx="1.42" ry="1.58" fill="url(#gs)" opacity="0.79"/><ellipse cx="486.1" cy="87.7" rx="2.20" ry="2.65" fill="url(#gs)" opacity="0.70"/><ellipse cx="491.6" cy="88.5" rx="1.28" ry="1.17" fill="url(#gs)" opacity="0.57"/><ellipse cx="527.3" cy="75.1" rx="1.17" ry="0.87" fill="url(#gs)" opacity="0.70"/><ellipse cx="509.0" cy="101.4" rx="1.35" ry="1.39" fill="url(#gs)" opacity="0.99"/><ellipse cx="511.2" cy="9.5" rx="1.12" ry="0.85" fill="url(#gs)" opacity="0.84"/><ellipse cx="530.5" cy="79.7" rx="1.73" ry="1.62" fill="url(#gs)" opacity="0.88"/><ellipse cx="405.7" cy="118.9" rx="1.97" ry="1.52" fill="url(#gs)" opacity="0.76"/><ellipse cx="406.0" cy="97.1" rx="1.58" ry="2.24" fill="url(#gs)" opacity="0.78"/><ellipse cx="514.0" cy="63.8" rx="1.84" ry="1.37" fill="url(#gs)" opacity="0.53"/><ellipse cx="472.4" cy="39.0" rx="2.18" ry="3.05" fill="url(#gs)" opacity="0.91"/><ellipse cx="459.2" cy="19.3" rx="1.63" ry="1.42" fill="url(#gs)" opacity="0.99"/><ellipse cx="472.5" cy="46.2" rx="1.15" ry="1.15" fill="url(#gs)" opacity="0.55"/><ellipse cx="445.5" cy="40.4" rx="1.89" ry="2.16" fill="url(#gs)" opacity="0.88"/><ellipse cx="391.0" cy="13.8" rx="1.08" ry="1.04" fill="url(#gs)" opacity="0.73"/><ellipse cx="528.4" cy="90.7" rx="2.11" ry="2.02" fill="url(#gs)" opacity="0.52"/><ellipse cx="492.8" cy="104.4" rx="1.24" ry="1.67" fill="url(#gs)" opacity="0.72"/><ellipse cx="496.7" cy="34.6" rx="1.17" ry="1.06" fill="url(#gs)" opacity="0.72"/><ellipse cx="538.1" cy="81.5" rx="2.29" ry="2.42" fill="url(#gs)" opacity="0.88"/><ellipse cx="431.4" cy="34.2" rx="2.64" ry="2.67" fill="url(#gs)" opacity="0.66"/><ellipse cx="506.3" cy="95.7" rx="1.99" ry="1.66" fill="url(#gs)" opacity="0.91"/><ellipse cx="437.4" cy="78.4" rx="1.59" ry="1.16" fill="url(#gs)" opacity="0.77"/><ellipse cx="488.1" cy="68.0" rx="1.49" ry="1.65" fill="url(#gs)" opacity="0.54"/><ellipse cx="422.1" cy="38.6" rx="2.51" ry="2.76" fill="url(#gs)" opacity="0.59"/><ellipse cx="502.6" cy="93.1" rx="0.97" ry="1.29" fill="url(#gs)" opacity="0.60"/><ellipse cx="429.2" cy="117.8" rx="1.78" ry="1.74" fill="url(#gs)" opacity="0.85"/><ellipse cx="435.9" cy="12.5" rx="2.05" ry="2.02" fill="url(#gs)" opacity="0.75"/><ellipse cx="536.4" cy="85.4" rx="1.07" ry="1.03" fill="url(#gs)" opacity="0.65"/><ellipse cx="451.8" cy="85.7" rx="1.20" ry="1.68" fill="url(#gs)" opacity="0.67"/><ellipse cx="515.7" cy="8.6" rx="2.16" ry="2.12" fill="url(#gs)" opacity="0.84"/><ellipse cx="431.9" cy="6.1" rx="0.97" ry="1.20" fill="url(#gs)" opacity="0.79"/><ellipse cx="489.8" cy="26.1" rx="1.28" ry="1.02" fill="url(#gs)" opacity="0.83"/><ellipse cx="476.0" cy="31.1" rx="2.37" ry="3.30" fill="url(#gs)" opacity="0.68"/><ellipse cx="499.1" cy="21.2" rx="1.75" ry="1.86" fill="url(#gs)" opacity="0.56"/><ellipse cx="427.5" cy="98.1" rx="1.37" ry="1.11" fill="url(#gs)" opacity="0.60"/><ellipse cx="423.1" cy="49.9" rx="1.32" ry="1.54" fill="url(#gs)" opacity="0.53"/><ellipse cx="490.2" cy="102.9" rx="2.07" ry="2.41" fill="url(#gs)" opacity="0.86"/><ellipse cx="404.2" cy="18.8" rx="1.32" ry="1.44" fill="url(#gs)" opacity="0.56"/><ellipse cx="400.3" cy="47.3" rx="1.50" ry="1.21" fill="url(#gs)" opacity="0.61"/><ellipse cx="502.4" cy="70.9" rx="2.22" ry="1.64" fill="url(#gs)" opacity="0.97"/><ellipse cx="469.3" cy="33.0" rx="0.98" ry="0.92" fill="url(#gs)" opacity="0.63"/><ellipse cx="529.5" cy="58.9" rx="2.28" ry="2.17" fill="url(#gs)" opacity="0.83"/><ellipse cx="444.5" cy="19.0" rx="1.81" ry="1.67" fill="url(#gs)" opacity="0.83"/><ellipse cx="467.7" cy="7.9" rx="1.49" ry="1.31" fill="url(#gs)" opacity="0.75"/><ellipse cx="511.3" cy="115.6" rx="1.69" ry="2.08" fill="url(#gs)" opacity="0.59"/><ellipse cx="424.3" cy="75.0" rx="1.76" ry="1.61" fill="url(#gs)" opacity="0.72"/><ellipse cx="411.2" cy="27.4" rx="2.11" ry="1.73" fill="url(#gs)" opacity="0.84"/><ellipse cx="391.9" cy="116.0" rx="1.19" ry="1.39" fill="url(#gs)" opacity="0.75"/><ellipse cx="539.8" cy="77.7" rx="1.02" ry="1.39" fill="url(#gs)" opacity="0.73"/><ellipse cx="424.2" cy="117.5" rx="1.21" ry="1.37" fill="url(#gs)" opacity="0.51"/><ellipse cx="446.5" cy="24.0" rx="2.34" ry="2.54" fill="url(#gs)" opacity="0.78"/><ellipse cx="497.5" cy="21.1" rx="1.41" ry="1.02" fill="url(#gs)" opacity="0.57"/><ellipse cx="468.9" cy="73.0" rx="0.84" ry="1.00" fill="url(#gs)" opacity="0.73"/><ellipse cx="451.7" cy="108.9" rx="2.00" ry="1.54" fill="url(#gs)" opacity="0.97"/><ellipse cx="451.6" cy="11.0" rx="1.61" ry="1.83" fill="url(#gs)" opacity="0.64"/><ellipse cx="536.0" cy="106.8" rx="1.60" ry="1.58" fill="url(#gs)" opacity="0.83"/><ellipse cx="467.4" cy="18.6" rx="1.23" ry="1.34" fill="url(#gs)" opacity="0.95"/><ellipse cx="535.3" cy="27.5" rx="1.02" ry="0.86" fill="url(#gs)" opacity="0.85"/><ellipse cx="428.6" cy="32.7" rx="1.43" ry="1.11" fill="url(#gs)" opacity="0.87"/><ellipse cx="484.3" cy="60.2" rx="1.37" ry="1.69" fill="url(#gs)" opacity="0.84"/><ellipse cx="497.1" cy="80.8" rx="1.24" ry="1.00" fill="url(#gs)" opacity="0.72"/><ellipse cx="534.6" cy="29.2" rx="1.61" ry="1.24" fill="url(#gs)" opacity="0.87"/><ellipse cx="444.3" cy="82.6" rx="1.62" ry="1.61" fill="url(#gs)" opacity="0.63"/><ellipse cx="395.4" cy="20.9" rx="1.15" ry="1.43" fill="url(#gs)" opacity="0.97"/><ellipse cx="477.1" cy="46.6" rx="1.52" ry="1.73" fill="url(#gs)" opacity="0.51"/><ellipse cx="492.1" cy="23.8" rx="1.49" ry="1.52" fill="url(#gs)" opacity="0.82"/><ellipse cx="485.8" cy="87.5" rx="2.28" ry="1.90" fill="url(#gs)" opacity="0.63"/><ellipse cx="514.1" cy="75.3" rx="1.99" ry="1.69" fill="url(#gs)" opacity="0.51"/><ellipse cx="470.8" cy="89.9" rx="1.83" ry="2.27" fill="url(#gs)" opacity="0.50"/><ellipse cx="424.7" cy="36.0" rx="1.42" ry="1.48" fill="url(#gs)" opacity="0.97"/><ellipse cx="536.5" cy="22.4" rx="1.21" ry="1.26" fill="url(#gs)" opacity="0.74"/><ellipse cx="429.0" cy="11.4" rx="0.84" ry="1.05" fill="url(#gs)" opacity="0.85"/><ellipse cx="429.7" cy="97.6" rx="1.77" ry="1.55" fill="url(#gs)" opacity="0.96"/><ellipse cx="474.6" cy="11.0" rx="1.03" ry="1.18" fill="url(#gs)" opacity="0.61"/><ellipse cx="510.4" cy="98.8" rx="0.89" ry="1.10" fill="url(#gs)" opacity="0.90"/><ellipse cx="509.5" cy="32.1" rx="1.04" ry="0.87" fill="url(#gs)" opacity="0.60"/><ellipse cx="478.0" cy="17.6" rx="1.50" ry="1.61" fill="url(#gs)" opacity="0.77"/><ellipse cx="499.4" cy="8.6" rx="1.62" ry="1.87" fill="url(#gs)" opacity="0.85"/><ellipse cx="482.8" cy="110.5" rx="1.22" ry="1.04" fill="url(#gs)" opacity="0.58"/><ellipse cx="424.2" cy="95.2" rx="2.24" ry="2.12" fill="url(#gs)" opacity="0.65"/><ellipse cx="437.6" cy="89.4" rx="0.81" ry="0.79" fill="url(#gs)" opacity="0.76"/><ellipse cx="412.8" cy="114.0" rx="1.72" ry="1.66" fill="url(#gs)" opacity="0.75"/><ellipse cx="468.7" cy="47.5" rx="1.95" ry="1.48" fill="url(#gs)" opacity="0.54"/><ellipse cx="448.4" cy="61.6" rx="1.07" ry="1.12" fill="url(#gs)" opacity="0.74"/><ellipse cx="497.6" cy="95.1" rx="1.58" ry="1.58" fill="url(#gs)" opacity="0.81"/><ellipse cx="405.8" cy="58.3" rx="1.36" ry="1.98" fill="url(#gs)" opacity="0.95"/><ellipse cx="409.5" cy="59.5" rx="1.36" ry="1.81" fill="url(#gs)" opacity="0.89"/><ellipse cx="456.0" cy="15.0" rx="1.63" ry="1.13" fill="url(#gs)" opacity="0.64"/><ellipse cx="506.0" cy="20.8" rx="2.26" ry="2.53" fill="url(#gs)" opacity="0.58"/><ellipse cx="416.2" cy="94.5" rx="1.20" ry="1.27" fill="url(#gs)" opacity="0.99"/><ellipse cx="407.7" cy="35.4" rx="2.08" ry="1.77" fill="url(#gs)" opacity="0.98"/><ellipse cx="481.2" cy="38.8" rx="1.59" ry="1.24" fill="url(#gs)" opacity="0.60"/><ellipse cx="534.7" cy="17.5" rx="1.69" ry="1.69" fill="url(#gs)" opacity="0.73"/><ellipse cx="539.6" cy="22.4" rx="1.67" ry="2.11" fill="url(#gs)" opacity="0.67"/><ellipse cx="418.3" cy="54.0" rx="1.94" ry="1.52" fill="url(#gs)" opacity="0.88"/><ellipse cx="481.6" cy="110.2" rx="2.33" ry="2.30" fill="url(#gs)" opacity="0.63"/><ellipse cx="445.2" cy="48.8" rx="1.12" ry="1.18" fill="url(#gs)" opacity="0.95"/><ellipse cx="452.0" cy="79.4" rx="2.11" ry="2.03" fill="url(#gs)" opacity="1.00"/><ellipse cx="499.9" cy="93.3" rx="1.99" ry="1.79" fill="url(#gs)" opacity="0.92"/><ellipse cx="410.2" cy="68.1" rx="1.22" ry="1.48" fill="url(#gs)" opacity="0.92"/><ellipse cx="522.7" cy="21.3" rx="2.17" ry="2.15" fill="url(#gs)" opacity="0.52"/><ellipse cx="521.4" cy="69.1" rx="1.61" ry="1.61" fill="url(#gs)" opacity="0.93"/><ellipse cx="422.3" cy="44.8" rx="1.12" ry="0.97" fill="url(#gs)" opacity="0.90"/><ellipse cx="424.3" cy="13.3" rx="0.86" ry="0.97" fill="url(#gs)" opacity="0.70"/><ellipse cx="511.2" cy="116.6" rx="1.47" ry="1.26" fill="url(#gs)" opacity="0.95"/><ellipse cx="500.8" cy="41.4" rx="1.64" ry="2.02" fill="url(#gs)" opacity="0.91"/><ellipse cx="522.9" cy="82.9" rx="1.09" ry="1.36" fill="url(#gs)" opacity="0.85"/><ellipse cx="408.9" cy="112.0" rx="0.92" ry="1.02" fill="url(#gs)" opacity="0.71"/><ellipse cx="403.9" cy="66.3" rx="1.78" ry="1.68" fill="url(#gs)" opacity="0.87"/><ellipse cx="511.1" cy="30.6" rx="1.91" ry="1.87" fill="url(#gs)" opacity="0.85"/><ellipse cx="530.4" cy="28.6" rx="1.38" ry="1.10" fill="url(#gs)" opacity="0.77"/><ellipse cx="534.5" cy="122.0" rx="1.37" ry="1.83" fill="url(#gs)" opacity="0.78"/><ellipse cx="504.7" cy="106.6" rx="1.18" ry="1.08" fill="url(#gs)" opacity="0.75"/><ellipse cx="525.7" cy="110.4" rx="2.40" ry="2.10" fill="url(#gs)" opacity="0.57"/><ellipse cx="485.3" cy="99.0" rx="1.27" ry="1.28" fill="url(#gs)" opacity="0.71"/><ellipse cx="390.9" cy="44.8" rx="1.58" ry="1.59" fill="url(#gs)" opacity="0.76"/><ellipse cx="416.5" cy="75.5" rx="2.05" ry="2.16" fill="url(#gs)" opacity="0.87"/><ellipse cx="497.5" cy="88.1" rx="1.44" ry="1.01" fill="url(#gs)" opacity="0.97"/><ellipse cx="456.8" cy="15.1" rx="1.05" ry="0.84" fill="url(#gs)" opacity="0.73"/><ellipse cx="486.4" cy="121.7" rx="1.17" ry="1.15" fill="url(#gs)" opacity="0.58"/><ellipse cx="414.5" cy="30.6" rx="0.93" ry="1.00" fill="url(#gs)" opacity="0.59"/><ellipse cx="462.4" cy="56.5" rx="2.44" ry="2.04" fill="url(#gs)" opacity="0.60"/><ellipse cx="479.4" cy="21.9" rx="3.16" ry="2.56" fill="url(#gs)" opacity="0.68"/><ellipse cx="454.2" cy="46.2" rx="1.49" ry="1.98" fill="url(#gs)" opacity="0.79"/><ellipse cx="391.0" cy="104.4" rx="1.87" ry="2.07" fill="url(#gs)" opacity="0.70"/><ellipse cx="455.3" cy="39.9" rx="1.71" ry="1.85" fill="url(#gs)" opacity="0.57"/><ellipse cx="445.2" cy="104.6" rx="1.98" ry="1.73" fill="url(#gs)" opacity="0.97"/><ellipse cx="473.0" cy="52.1" rx="1.30" ry="1.25" fill="url(#gs)" opacity="0.51"/><ellipse cx="438.8" cy="61.1" rx="1.73" ry="1.41" fill="url(#gs)" opacity="0.77"/><ellipse cx="530.3" cy="79.8" rx="1.41" ry="1.54" fill="url(#gs)" opacity="0.89"/><ellipse cx="429.4" cy="48.3" rx="1.59" ry="1.39" fill="url(#gs)" opacity="0.64"/><ellipse cx="440.2" cy="101.1" rx="0.88" ry="0.96" fill="url(#gs)" opacity="0.53"/><ellipse cx="511.6" cy="22.2" rx="2.53" ry="2.51" fill="url(#gs)" opacity="0.96"/><ellipse cx="533.0" cy="69.5" rx="2.35" ry="1.95" fill="url(#gs)" opacity="0.60"/><ellipse cx="503.0" cy="105.5" rx="1.57" ry="1.50" fill="url(#gs)" opacity="0.80"/><ellipse cx="537.5" cy="9.5" rx="0.78" ry="1.05" fill="url(#gs)" opacity="0.82"/><ellipse cx="407.0" cy="24.0" rx="1.19" ry="1.33" fill="url(#gs)" opacity="0.68"/><ellipse cx="537.8" cy="55.8" rx="1.22" ry="1.63" fill="url(#gs)" opacity="1.00"/><ellipse cx="496.6" cy="25.5" rx="1.05" ry="1.22" fill="url(#gs)" opacity="0.53"/><ellipse cx="456.4" cy="97.5" rx="1.83" ry="1.66" fill="url(#gs)" opacity="0.67"/><ellipse cx="449.8" cy="115.4" rx="1.98" ry="1.66" fill="url(#gs)" opacity="0.59"/><ellipse cx="447.9" cy="85.8" rx="1.01" ry="0.91" fill="url(#gs)" opacity="0.50"/><ellipse cx="510.5" cy="53.5" rx="1.86" ry="1.64" fill="url(#gs)" opacity="0.98"/><ellipse cx="534.3" cy="113.7" rx="1.56" ry="1.49" fill="url(#gs)" opacity="0.95"/><ellipse cx="509.6" cy="97.2" rx="2.03" ry="1.75" fill="url(#gs)" opacity="0.88"/><ellipse cx="429.6" cy="76.5" rx="1.09" ry="0.99" fill="url(#gs)" opacity="0.96"/><ellipse cx="402.5" cy="113.8" rx="2.00" ry="1.86" fill="url(#gs)" opacity="0.95"/><ellipse cx="478.6" cy="55.0" rx="2.24" ry="1.70" fill="url(#gs)" opacity="0.64"/><ellipse cx="407.2" cy="106.9" rx="1.29" ry="1.56" fill="url(#gs)" opacity="0.82"/><ellipse cx="404.7" cy="62.8" rx="1.88" ry="1.61" fill="url(#gs)" opacity="0.69"/><ellipse cx="528.9" cy="115.3" rx="2.16" ry="2.36" fill="url(#gs)" opacity="0.88"/><ellipse cx="458.9" cy="106.0" rx="1.37" ry="1.17" fill="url(#gs)" opacity="0.87"/><ellipse cx="411.9" cy="84.5" rx="0.98" ry="1.06" fill="url(#gs)" opacity="0.57"/><ellipse cx="486.2" cy="49.1" rx="0.98" ry="1.19" fill="url(#gs)" opacity="0.54"/><ellipse cx="518.6" cy="109.5" rx="0.93" ry="1.02" fill="url(#gs)" opacity="0.86"/><ellipse cx="441.8" cy="114.1" rx="1.26" ry="0.95" fill="url(#gs)" opacity="0.59"/><ellipse cx="465.5" cy="44.4" rx="1.09" ry="1.22" fill="url(#gs)" opacity="0.63"/><ellipse cx="527.8" cy="30.9" rx="2.36" ry="2.20" fill="url(#gs)" opacity="0.82"/><ellipse cx="470.5" cy="105.0" rx="1.67" ry="1.61" fill="url(#gs)" opacity="0.84"/><ellipse cx="502.5" cy="32.1" rx="1.73" ry="1.70" fill="url(#gs)" opacity="0.58"/><ellipse cx="493.3" cy="69.8" rx="1.18" ry="1.37" fill="url(#gs)" opacity="0.75"/><ellipse cx="430.4" cy="48.0" rx="1.62" ry="1.35" fill="url(#gs)" opacity="0.94"/><ellipse cx="445.5" cy="117.3" rx="2.15" ry="2.47" fill="url(#gs)" opacity="0.69"/><ellipse cx="472.7" cy="41.7" rx="0.79" ry="0.85" fill="url(#gs)" opacity="0.81"/><ellipse cx="475.0" cy="115.9" rx="2.03" ry="1.81" fill="url(#gs)" opacity="0.77"/><ellipse cx="520.2" cy="83.4" rx="1.23" ry="1.58" fill="url(#gs)" opacity="0.62"/><ellipse cx="536.9" cy="12.5" rx="0.80" ry="0.91" fill="url(#gs)" opacity="0.56"/><ellipse cx="516.4" cy="83.3" rx="2.06" ry="1.84" fill="url(#gs)" opacity="0.86"/><ellipse cx="390.3" cy="10.8" rx="1.31" ry="1.45" fill="url(#gs)" opacity="0.50"/><ellipse cx="452.8" cy="110.6" rx="1.29" ry="1.42" fill="url(#gs)" opacity="0.59"/><ellipse cx="515.7" cy="16.9" rx="2.33" ry="2.03" fill="url(#gs)" opacity="0.66"/><ellipse cx="535.9" cy="52.4" rx="3.30" ry="2.33" fill="url(#gs)" opacity="0.87"/><ellipse cx="430.8" cy="22.3" rx="1.58" ry="1.60" fill="url(#gs)" opacity="1.00"/><ellipse cx="499.6" cy="69.5" rx="1.20" ry="1.14" fill="url(#gs)" opacity="0.58"/><ellipse cx="412.6" cy="73.9" rx="1.86" ry="1.92" fill="url(#gs)" opacity="0.78"/><ellipse cx="398.8" cy="54.5" rx="1.06" ry="1.34" fill="url(#gs)" opacity="0.62"/><ellipse cx="404.0" cy="60.9" rx="1.51" ry="1.21" fill="url(#gs)" opacity="0.84"/><ellipse cx="516.0" cy="58.0" rx="1.57" ry="1.31" fill="url(#gs)" opacity="0.53"/><ellipse cx="402.4" cy="43.8" rx="0.98" ry="0.93" fill="url(#gs)" opacity="0.76"/><ellipse cx="531.4" cy="33.6" rx="1.01" ry="1.26" fill="url(#gs)" opacity="0.85"/><ellipse cx="454.8" cy="24.4" rx="1.09" ry="1.01" fill="url(#gs)" opacity="0.58"/><ellipse cx="484.4" cy="11.8" rx="1.27" ry="1.65" fill="url(#gs)" opacity="0.86"/><ellipse cx="467.1" cy="24.7" rx="1.81" ry="1.43" fill="url(#gs)" opacity="0.95"/><ellipse cx="390.5" cy="31.1" rx="1.15" ry="1.48" fill="url(#gs)" opacity="1.00"/><ellipse cx="440.6" cy="36.1" rx="1.64" ry="1.83" fill="url(#gs)" opacity="0.72"/><ellipse cx="413.5" cy="13.2" rx="1.81" ry="1.30" fill="url(#gs)" opacity="0.75"/><ellipse cx="463.8" cy="27.7" rx="1.91" ry="1.56" fill="url(#gs)" opacity="0.97"/><ellipse cx="513.0" cy="60.4" rx="0.91" ry="1.15" fill="url(#gs)" opacity="0.85"/><ellipse cx="477.3" cy="119.2" rx="1.07" ry="0.81" fill="url(#gs)" opacity="0.66"/><ellipse cx="398.1" cy="73.2" rx="1.91" ry="1.67" fill="url(#gs)" opacity="0.86"/><ellipse cx="431.8" cy="119.4" rx="2.37" ry="2.49" fill="url(#gs)" opacity="0.82"/><ellipse cx="413.5" cy="107.0" rx="1.68" ry="1.88" fill="url(#gs)" opacity="0.50"/><ellipse cx="396.4" cy="46.4" rx="1.81" ry="2.27" fill="url(#gs)" opacity="0.89"/><ellipse cx="520.6" cy="73.8" rx="2.43" ry="2.12" fill="url(#gs)" opacity="0.60"/><ellipse cx="446.4" cy="64.7" rx="1.46" ry="1.61" fill="url(#gs)" opacity="0.75"/><ellipse cx="470.3" cy="37.3" rx="2.03" ry="1.84" fill="url(#gs)" opacity="0.62"/><ellipse cx="529.8" cy="64.8" rx="1.30" ry="1.46" fill="url(#gs)" opacity="0.91"/><ellipse cx="462.9" cy="90.5" rx="1.09" ry="1.07" fill="url(#gs)" opacity="0.68"/><ellipse cx="504.0" cy="90.8" rx="1.28" ry="1.22" fill="url(#gs)" opacity="0.84"/><ellipse cx="485.9" cy="86.1" rx="1.94" ry="2.83" fill="url(#gs)" opacity="0.76"/><ellipse cx="491.2" cy="118.1" rx="1.74" ry="1.57" fill="url(#gs)" opacity="0.90"/><ellipse cx="501.3" cy="62.1" rx="1.34" ry="1.46" fill="url(#gs)" opacity="0.95"/><ellipse cx="518.2" cy="106.5" rx="1.32" ry="1.70" fill="url(#gs)" opacity="0.59"/><ellipse cx="413.8" cy="37.9" rx="1.87" ry="2.29" fill="url(#gs)" opacity="0.95"/><ellipse cx="454.5" cy="27.5" rx="1.55" ry="2.12" fill="url(#gs)" opacity="0.72"/><ellipse cx="393.1" cy="50.6" rx="2.65" ry="2.24" fill="url(#gs)" opacity="0.84"/><ellipse cx="484.3" cy="27.0" rx="0.97" ry="0.85" fill="url(#gs)" opacity="0.60"/><ellipse cx="519.2" cy="111.4" rx="1.22" ry="1.10" fill="url(#gs)" opacity="0.52"/><ellipse cx="439.1" cy="80.4" rx="1.38" ry="1.44" fill="url(#gs)" opacity="0.66"/><ellipse cx="452.9" cy="47.5" rx="2.37" ry="1.78" fill="url(#gs)" opacity="0.93"/><ellipse cx="426.8" cy="73.7" rx="3.08" ry="2.48" fill="url(#gs)" opacity="0.89"/><ellipse cx="462.4" cy="120.5" rx="0.86" ry="1.01" fill="url(#gs)" opacity="0.89"/><ellipse cx="517.2" cy="69.2" rx="1.15" ry="1.23" fill="url(#gs)" opacity="0.88"/><ellipse cx="456.5" cy="121.2" rx="0.89" ry="0.81" fill="url(#gs)" opacity="0.55"/><ellipse cx="403.7" cy="48.2" rx="1.30" ry="1.53" fill="url(#gs)" opacity="0.76"/><ellipse cx="538.3" cy="24.8" rx="1.44" ry="1.73" fill="url(#gs)" opacity="0.60"/><ellipse cx="522.5" cy="46.9" rx="1.34" ry="1.19" fill="url(#gs)" opacity="0.54"/><ellipse cx="534.2" cy="48.2" rx="1.05" ry="0.97" fill="url(#gs)" opacity="0.66"/><ellipse cx="517.6" cy="44.6" rx="1.32" ry="1.35" fill="url(#gs)" opacity="0.58"/><ellipse cx="490.0" cy="82.8" rx="1.28" ry="1.60" fill="url(#gs)" opacity="0.73"/><ellipse cx="515.6" cy="48.9" rx="2.70" ry="2.44" fill="url(#gs)" opacity="0.84"/><ellipse cx="416.1" cy="80.5" rx="1.83" ry="1.48" fill="url(#gs)" opacity="0.81"/><ellipse cx="415.9" cy="64.6" rx="1.09" ry="1.27" fill="url(#gs)" opacity="0.81"/><ellipse cx="410.3" cy="41.1" rx="1.79" ry="1.91" fill="url(#gs)" opacity="0.79"/><ellipse cx="423.6" cy="56.8" rx="2.09" ry="1.79" fill="url(#gs)" opacity="0.72"/><ellipse cx="536.4" cy="101.2" rx="1.76" ry="1.37" fill="url(#gs)" opacity="0.97"/><ellipse cx="536.8" cy="90.2" rx="1.06" ry="1.38" fill="url(#gs)" opacity="0.76"/><ellipse cx="392.4" cy="109.2" rx="1.54" ry="1.45" fill="url(#gs)" opacity="0.93"/><ellipse cx="420.7" cy="110.1" rx="1.96" ry="1.96" fill="url(#gs)" opacity="0.81"/><ellipse cx="408.2" cy="23.7" rx="1.46" ry="1.45" fill="url(#gs)" opacity="0.94"/><ellipse cx="539.5" cy="56.5" rx="2.17" ry="2.09" fill="url(#gs)" opacity="0.87"/><ellipse cx="424.4" cy="15.7" rx="2.10" ry="2.30" fill="url(#gs)" opacity="0.57"/><ellipse cx="495.6" cy="59.3" rx="1.62" ry="2.18" fill="url(#gs)" opacity="0.64"/><ellipse cx="502.5" cy="102.3" rx="1.15" ry="1.07" fill="url(#gs)" opacity="0.61"/><ellipse cx="534.1" cy="48.1" rx="1.23" ry="1.67" fill="url(#gs)" opacity="0.87"/><ellipse cx="522.3" cy="46.8" rx="1.26" ry="1.22" fill="url(#gs)" opacity="0.70"/><ellipse cx="469.2" cy="23.0" rx="2.01" ry="2.23" fill="url(#gs)" opacity="0.60"/><ellipse cx="499.1" cy="46.3" rx="1.71" ry="1.98" fill="url(#gs)" opacity="0.74"/><ellipse cx="456.0" cy="5.2" rx="2.10" ry="1.90" fill="url(#gs)" opacity="0.80"/><ellipse cx="484.5" cy="19.7" rx="2.10" ry="2.04" fill="url(#gs)" opacity="0.84"/><ellipse cx="513.1" cy="56.1" rx="1.50" ry="1.44" fill="url(#gs)" opacity="0.71"/><ellipse cx="466.9" cy="22.4" rx="1.11" ry="1.00" fill="url(#gs)" opacity="0.59"/><ellipse cx="477.2" cy="27.2" rx="1.43" ry="1.47" fill="url(#gs)" opacity="0.92"/><ellipse cx="392.5" cy="113.8" rx="2.79" ry="2.76" fill="url(#gs)" opacity="0.61"/><ellipse cx="507.9" cy="40.8" rx="1.82" ry="1.88" fill="url(#gs)" opacity="0.69"/><ellipse cx="462.5" cy="12.6" rx="1.44" ry="1.71" fill="url(#gs)" opacity="0.87"/><ellipse cx="405.3" cy="103.2" rx="1.92" ry="2.07" fill="url(#gs)" opacity="0.54"/><ellipse cx="463.9" cy="34.3" rx="1.20" ry="1.41" fill="url(#gs)" opacity="0.86"/><ellipse cx="407.2" cy="31.1" rx="0.77" ry="0.98" fill="url(#gs)" opacity="0.89"/><ellipse cx="540.4" cy="29.5" rx="0.91" ry="1.11" fill="url(#gs)" opacity="0.70"/><ellipse cx="437.2" cy="13.5" rx="1.99" ry="1.99" fill="url(#gs)" opacity="0.88"/><ellipse cx="515.5" cy="60.7" rx="1.29" ry="1.07" fill="url(#gs)" opacity="0.83"/><ellipse cx="427.0" cy="70.2" rx="2.76" ry="2.85" fill="url(#gs)" opacity="0.51"/><ellipse cx="484.7" cy="78.9" rx="1.35" ry="1.59" fill="url(#gs)" opacity="0.86"/><ellipse cx="420.9" cy="80.2" rx="1.37" ry="1.65" fill="url(#gs)" opacity="0.66"/><ellipse cx="480.2" cy="44.4" rx="0.96" ry="1.18" fill="url(#gs)" opacity="0.65"/><ellipse cx="472.4" cy="99.5" rx="0.86" ry="1.22" fill="url(#gs)" opacity="0.51"/><ellipse cx="499.3" cy="48.1" rx="1.12" ry="1.08" fill="url(#gs)" opacity="0.56"/><ellipse cx="468.9" cy="40.1" rx="2.01" ry="1.84" fill="url(#gs)" opacity="0.98"/><ellipse cx="438.6" cy="80.6" rx="2.09" ry="1.73" fill="url(#gs)" opacity="0.55"/><ellipse cx="396.4" cy="57.5" rx="1.90" ry="2.15" fill="url(#gs)" opacity="0.64"/><ellipse cx="413.0" cy="65.8" rx="1.63" ry="1.26" fill="url(#gs)" opacity="0.78"/><ellipse cx="452.9" cy="9.0" rx="1.32" ry="1.48" fill="url(#gs)" opacity="0.86"/><ellipse cx="399.5" cy="113.1" rx="1.12" ry="0.83" fill="url(#gs)" opacity="0.69"/><ellipse cx="409.1" cy="60.4" rx="0.82" ry="0.77" fill="url(#gs)" opacity="0.55"/><ellipse cx="419.4" cy="65.6" rx="1.03" ry="0.96" fill="url(#gs)" opacity="0.62"/><ellipse cx="516.8" cy="10.5" rx="2.11" ry="1.72" fill="url(#gs)" opacity="0.80"/><ellipse cx="520.4" cy="16.8" rx="1.01" ry="1.06" fill="url(#gs)" opacity="0.64"/><ellipse cx="465.0" cy="26.8" rx="1.47" ry="1.31" fill="url(#gs)" opacity="0.64"/><ellipse cx="487.0" cy="15.0" rx="1.66" ry="1.57" fill="url(#gs)" opacity="0.75"/><ellipse cx="452.2" cy="109.4" rx="1.42" ry="1.47" fill="url(#gs)" opacity="0.97"/><ellipse cx="428.8" cy="100.3" rx="1.96" ry="1.73" fill="url(#gs)" opacity="0.90"/><ellipse cx="474.3" cy="14.3" rx="1.75" ry="2.03" fill="url(#gs)" opacity="0.60"/><ellipse cx="489.8" cy="17.2" rx="1.58" ry="1.20" fill="url(#gs)" opacity="0.60"/><ellipse cx="535.0" cy="50.8" rx="1.52" ry="1.55" fill="url(#gs)" opacity="0.83"/><ellipse cx="418.4" cy="116.1" rx="2.46" ry="2.03" fill="url(#gs)" opacity="0.92"/><ellipse cx="426.3" cy="91.9" rx="1.99" ry="2.02" fill="url(#gs)" opacity="0.63"/><ellipse cx="508.9" cy="60.6" rx="1.43" ry="1.45" fill="url(#gs)" opacity="0.92"/><ellipse cx="491.1" cy="24.9" rx="0.96" ry="1.02" fill="url(#gs)" opacity="0.55"/><ellipse cx="413.4" cy="88.9" rx="1.09" ry="1.33" fill="url(#gs)" opacity="0.65"/><ellipse cx="430.4" cy="51.2" rx="0.87" ry="0.74" fill="url(#gs)" opacity="0.93"/><ellipse cx="446.6" cy="5.0" rx="1.85" ry="1.66" fill="url(#gs)" opacity="0.55"/><ellipse cx="497.2" cy="73.1" rx="1.38" ry="1.79" fill="url(#gs)" opacity="0.69"/><ellipse cx="539.4" cy="108.7" rx="0.85" ry="1.14" fill="url(#gs)" opacity="0.90"/><ellipse cx="495.0" cy="69.3" rx="1.91" ry="1.70" fill="url(#gs)" opacity="0.70"/><ellipse cx="418.9" cy="87.9" rx="1.67" ry="1.65" fill="url(#gs)" opacity="0.96"/><ellipse cx="512.7" cy="71.3" rx="1.22" ry="1.09" fill="url(#gs)" opacity="0.67"/><ellipse cx="496.7" cy="114.0" rx="1.97" ry="1.86" fill="url(#gs)" opacity="0.72"/><ellipse cx="459.7" cy="93.9" rx="1.34" ry="1.44" fill="url(#gs)" opacity="0.62"/><ellipse cx="493.2" cy="109.4" rx="1.05" ry="0.98" fill="url(#gs)" opacity="0.97"/><ellipse cx="540.5" cy="57.1" rx="1.61" ry="2.20" fill="url(#gs)" opacity="0.59"/><ellipse cx="401.5" cy="57.9" rx="0.89" ry="1.09" fill="url(#gs)" opacity="0.71"/><ellipse cx="518.3" cy="96.2" rx="1.48" ry="1.60" fill="url(#gs)" opacity="0.70"/><ellipse cx="487.5" cy="64.1" rx="1.54" ry="1.13" fill="url(#gs)" opacity="0.67"/><ellipse cx="391.8" cy="16.0" rx="1.10" ry="1.04" fill="url(#gs)" opacity="0.98"/><ellipse cx="516.4" cy="73.5" rx="2.18" ry="2.52" fill="url(#gs)" opacity="0.53"/><ellipse cx="471.9" cy="48.9" rx="1.25" ry="1.63" fill="url(#gs)" opacity="0.90"/><ellipse cx="480.3" cy="18.5" rx="1.93" ry="1.79" fill="url(#gs)" opacity="0.52"/><ellipse cx="522.7" cy="82.8" rx="1.39" ry="1.43" fill="url(#gs)" opacity="0.62"/><ellipse cx="477.1" cy="49.3" rx="1.31" ry="1.17" fill="url(#gs)" opacity="0.77"/><ellipse cx="530.2" cy="71.3" rx="2.39" ry="1.62" fill="url(#gs)" opacity="0.73"/><ellipse cx="473.4" cy="90.0" rx="2.04" ry="2.17" fill="url(#gs)" opacity="0.77"/><ellipse cx="496.4" cy="115.8" rx="1.05" ry="0.76" fill="url(#gs)" opacity="0.90"/><ellipse cx="394.7" cy="80.8" rx="1.77" ry="1.66" fill="url(#gs)" opacity="0.85"/><ellipse cx="478.6" cy="116.7" rx="1.65" ry="1.85" fill="url(#gs)" opacity="0.69"/><ellipse cx="442.3" cy="99.0" rx="1.23" ry="1.30" fill="url(#gs)" opacity="0.51"/><ellipse cx="430.9" cy="62.7" rx="2.30" ry="1.94" fill="url(#gs)" opacity="0.77"/><ellipse cx="530.1" cy="12.5" rx="1.11" ry="1.19" fill="url(#gs)" opacity="0.85"/><ellipse cx="477.6" cy="19.3" rx="1.60" ry="2.10" fill="url(#gs)" opacity="0.91"/><ellipse cx="422.7" cy="114.9" rx="1.50" ry="2.15" fill="url(#gs)" opacity="0.91"/><ellipse cx="404.7" cy="94.7" rx="2.07" ry="2.18" fill="url(#gs)" opacity="0.66"/><ellipse cx="515.9" cy="112.8" rx="1.37" ry="1.45" fill="url(#gs)" opacity="0.78"/><ellipse cx="431.6" cy="34.4" rx="1.77" ry="1.79" fill="url(#gs)" opacity="0.62"/><ellipse cx="495.3" cy="83.8" rx="1.16" ry="0.97" fill="url(#gs)" opacity="0.55"/><ellipse cx="432.6" cy="95.3" rx="1.26" ry="1.23" fill="url(#gs)" opacity="0.67"/><ellipse cx="522.9" cy="23.9" rx="0.83" ry="1.05" fill="url(#gs)" opacity="0.54"/><ellipse cx="427.3" cy="82.6" rx="1.91" ry="1.58" fill="url(#gs)" opacity="0.67"/><ellipse cx="426.6" cy="97.3" rx="1.78" ry="1.90" fill="url(#gs)" opacity="0.56"/><ellipse cx="448.1" cy="39.3" rx="1.10" ry="1.15" fill="url(#gs)" opacity="0.64"/><ellipse cx="520.5" cy="79.7" rx="1.73" ry="1.74" fill="url(#gs)" opacity="0.72"/><ellipse cx="475.6" cy="105.9" rx="1.02" ry="1.21" fill="url(#gs)" opacity="0.88"/><ellipse cx="413.6" cy="55.6" rx="1.99" ry="2.37" fill="url(#gs)" opacity="0.95"/><ellipse cx="446.8" cy="19.5" rx="1.95" ry="1.77" fill="url(#gs)" opacity="0.65"/><ellipse cx="467.8" cy="38.7" rx="1.67" ry="1.67" fill="url(#gs)" opacity="0.96"/><ellipse cx="462.2" cy="117.8" rx="1.13" ry="1.23" fill="url(#gs)" opacity="0.71"/><ellipse cx="539.6" cy="7.9" rx="1.82" ry="2.17" fill="url(#gs)" opacity="0.61"/><ellipse cx="503.6" cy="59.8" rx="1.56" ry="1.52" fill="url(#gs)" opacity="0.54"/><ellipse cx="537.7" cy="30.9" rx="1.39" ry="1.56" fill="url(#gs)" opacity="0.97"/><ellipse cx="485.6" cy="47.8" rx="2.60" ry="2.46" fill="url(#gs)" opacity="0.99"/><ellipse cx="452.5" cy="46.1" rx="1.65" ry="1.45" fill="url(#gs)" opacity="0.77"/><ellipse cx="454.3" cy="34.3" rx="1.25" ry="1.52" fill="url(#gs)" opacity="0.78"/><ellipse cx="421.3" cy="11.3" rx="1.21" ry="1.26" fill="url(#gs)" opacity="0.62"/><ellipse cx="507.8" cy="56.7" rx="1.26" ry="1.28" fill="url(#gs)" opacity="0.83"/><ellipse cx="494.1" cy="49.5" rx="1.84" ry="1.66" fill="url(#gs)" opacity="0.78"/><ellipse cx="488.8" cy="31.3" rx="0.78" ry="1.04" fill="url(#gs)" opacity="0.81"/><ellipse cx="432.2" cy="57.1" rx="1.03" ry="1.33" fill="url(#gs)" opacity="0.73"/><ellipse cx="498.0" cy="45.7" rx="1.98" ry="1.79" fill="url(#gs)" opacity="0.78"/><ellipse cx="418.8" cy="118.9" rx="1.80" ry="1.43" fill="url(#gs)" opacity="0.67"/><ellipse cx="424.8" cy="103.6" rx="1.05" ry="1.02" fill="url(#gs)" opacity="0.86"/><ellipse cx="435.5" cy="32.2" rx="1.90" ry="1.64" fill="url(#gs)" opacity="0.88"/><ellipse cx="476.5" cy="100.4" rx="2.49" ry="1.67" fill="url(#gs)" opacity="0.94"/><ellipse cx="394.5" cy="68.8" rx="1.26" ry="1.21" fill="url(#gs)" opacity="0.89"/><ellipse cx="473.1" cy="93.4" rx="2.41" ry="2.69" fill="url(#gs)" opacity="0.50"/><ellipse cx="429.1" cy="82.9" rx="1.78" ry="1.99" fill="url(#gs)" opacity="0.83"/><ellipse cx="421.1" cy="67.6" rx="1.42" ry="1.49" fill="url(#gs)" opacity="0.67"/><ellipse cx="404.5" cy="45.8" rx="1.54" ry="1.94" fill="url(#gs)" opacity="0.56"/><ellipse cx="503.4" cy="22.3" rx="1.02" ry="0.92" fill="url(#gs)" opacity="0.94"/><ellipse cx="531.7" cy="38.2" rx="1.84" ry="1.62" fill="url(#gs)" opacity="0.97"/><ellipse cx="534.4" cy="6.5" rx="1.14" ry="1.26" fill="url(#gs)" opacity="0.95"/><ellipse cx="393.6" cy="102.8" rx="2.56" ry="2.50" fill="url(#gs)" opacity="0.56"/><ellipse cx="445.5" cy="19.0" rx="1.15" ry="1.09" fill="url(#gs)" opacity="0.65"/><ellipse cx="469.4" cy="95.6" rx="2.06" ry="1.97" fill="url(#gs)" opacity="0.78"/><ellipse cx="461.8" cy="43.6" rx="1.11" ry="0.89" fill="url(#gs)" opacity="0.96"/><ellipse cx="524.0" cy="8.9" rx="1.77" ry="1.97" fill="url(#gs)" opacity="0.68"/><ellipse cx="484.6" cy="54.8" rx="2.25" ry="1.70" fill="url(#gs)" opacity="0.64"/><ellipse cx="407.8" cy="22.4" rx="1.71" ry="1.29" fill="url(#gs)" opacity="0.81"/><ellipse cx="520.0" cy="19.8" rx="1.15" ry="1.36" fill="url(#gs)" opacity="0.67"/><ellipse cx="450.1" cy="117.0" rx="1.52" ry="1.16" fill="url(#gs)" opacity="0.77"/><ellipse cx="532.1" cy="18.7" rx="2.11" ry="2.00" fill="url(#gs)" opacity="0.55"/><ellipse cx="534.7" cy="17.0" rx="1.71" ry="1.98" fill="url(#gs)" opacity="0.71"/><ellipse cx="503.4" cy="10.1" rx="2.27" ry="2.00" fill="url(#gs)" opacity="0.91"/><ellipse cx="435.5" cy="68.8" rx="0.77" ry="1.06" fill="url(#gs)" opacity="0.84"/><ellipse cx="454.2" cy="119.0" rx="1.70" ry="2.20" fill="url(#gs)" opacity="0.86"/><ellipse cx="481.5" cy="6.8" rx="2.08" ry="2.26" fill="url(#gs)" opacity="0.64"/><ellipse cx="394.4" cy="113.0" rx="2.65" ry="2.42" fill="url(#gs)" opacity="0.60"/><ellipse cx="412.1" cy="110.0" rx="1.45" ry="1.64" fill="url(#gs)" opacity="0.97"/><ellipse cx="390.5" cy="54.0" rx="0.82" ry="1.14" fill="url(#gs)" opacity="0.92"/><ellipse cx="500.5" cy="9.9" rx="1.73" ry="1.49" fill="url(#gs)" opacity="0.76"/><ellipse cx="511.1" cy="20.4" rx="1.77" ry="1.75" fill="url(#gs)" opacity="0.73"/><ellipse cx="487.8" cy="71.7" rx="1.81" ry="1.34" fill="url(#gs)" opacity="0.51"/><ellipse cx="439.6" cy="41.6" rx="0.85" ry="1.23" fill="url(#gs)" opacity="0.74"/><ellipse cx="522.7" cy="86.6" rx="1.63" ry="1.94" fill="url(#gs)" opacity="0.60"/><ellipse cx="473.8" cy="74.7" rx="1.24" ry="1.24" fill="url(#gs)" opacity="0.99"/><ellipse cx="407.9" cy="29.6" rx="1.13" ry="1.09" fill="url(#gs)" opacity="0.89"/><ellipse cx="467.9" cy="70.8" rx="1.74" ry="1.67" fill="url(#gs)" opacity="0.88"/><ellipse cx="476.5" cy="20.1" rx="1.37" ry="1.45" fill="url(#gs)" opacity="0.68"/><ellipse cx="449.1" cy="54.9" rx="1.13" ry="1.09" fill="url(#gs)" opacity="0.86"/><ellipse cx="449.7" cy="57.5" rx="1.44" ry="1.30" fill="url(#gs)" opacity="0.94"/><ellipse cx="531.8" cy="38.5" rx="1.20" ry="1.69" fill="url(#gs)" opacity="0.92"/><ellipse cx="426.4" cy="34.8" rx="1.72" ry="1.66" fill="url(#gs)" opacity="0.62"/><ellipse cx="510.5" cy="106.0" rx="2.00" ry="2.30" fill="url(#gs)" opacity="0.86"/><ellipse cx="459.3" cy="22.0" rx="0.80" ry="1.09" fill="url(#gs)" opacity="0.83"/><ellipse cx="461.5" cy="109.3" rx="1.70" ry="2.09" fill="url(#gs)" opacity="0.71"/><ellipse cx="427.7" cy="113.7" rx="1.58" ry="1.66" fill="url(#gs)" opacity="0.79"/><ellipse cx="439.0" cy="56.4" rx="2.04" ry="1.75" fill="url(#gs)" opacity="0.97"/><ellipse cx="533.7" cy="43.3" rx="1.57" ry="1.71" fill="url(#gs)" opacity="0.82"/><ellipse cx="441.7" cy="9.0" rx="0.91" ry="0.97" fill="url(#gs)" opacity="0.81"/><ellipse cx="526.0" cy="65.3" rx="1.10" ry="1.34" fill="url(#gs)" opacity="0.58"/><ellipse cx="429.6" cy="56.3" rx="1.74" ry="1.70" fill="url(#gs)" opacity="0.61"/><ellipse cx="440.2" cy="51.2" rx="1.79" ry="1.74" fill="url(#gs)" opacity="0.89"/><ellipse cx="526.4" cy="54.8" rx="2.39" ry="2.03" fill="url(#gs)" opacity="0.84"/><ellipse cx="447.6" cy="36.8" rx="1.00" ry="1.15" fill="url(#gs)" opacity="0.73"/><ellipse cx="469.5" cy="29.2" rx="1.19" ry="1.13" fill="url(#gs)" opacity="0.50"/><ellipse cx="497.3" cy="55.7" rx="0.87" ry="1.11" fill="url(#gs)" opacity="0.78"/><ellipse cx="439.3" cy="34.1" rx="1.17" ry="1.39" fill="url(#gs)" opacity="0.89"/><ellipse cx="495.4" cy="108.5" rx="1.38" ry="1.46" fill="url(#gs)" opacity="0.63"/><ellipse cx="469.8" cy="101.2" rx="1.44" ry="1.91" fill="url(#gs)" opacity="0.88"/><ellipse cx="441.5" cy="10.4" rx="2.37" ry="1.76" fill="url(#gs)" opacity="0.83"/><ellipse cx="443.8" cy="109.0" rx="1.11" ry="1.41" fill="url(#gs)" opacity="0.99"/><ellipse cx="487.1" cy="84.8" rx="1.03" ry="1.48" fill="url(#gs)" opacity="0.52"/><ellipse cx="482.5" cy="45.9" rx="1.32" ry="1.01" fill="url(#gs)" opacity="0.58"/><ellipse cx="417.1" cy="107.3" rx="0.93" ry="1.04" fill="url(#gs)" opacity="0.74"/><ellipse cx="473.6" cy="90.1" rx="1.61" ry="2.23" fill="url(#gs)" opacity="0.51"/><ellipse cx="438.0" cy="21.7" rx="1.38" ry="1.49" fill="url(#gs)" opacity="0.93"/><ellipse cx="494.1" cy="17.7" rx="1.66" ry="1.49" fill="url(#gs)" opacity="0.83"/><ellipse cx="438.2" cy="20.7" rx="0.93" ry="1.05" fill="url(#gs)" opacity="0.78"/><ellipse cx="473.4" cy="52.2" rx="1.73" ry="2.18" fill="url(#gs)" opacity="0.93"/><ellipse cx="529.0" cy="94.5" rx="1.59" ry="1.31" fill="url(#gs)" opacity="0.63"/><ellipse cx="404.7" cy="107.4" rx="1.31" ry="1.08" fill="url(#gs)" opacity="0.85"/><ellipse cx="510.1" cy="98.1" rx="1.68" ry="2.16" fill="url(#gs)" opacity="0.85"/><ellipse cx="446.1" cy="45.2" rx="1.07" ry="1.22" fill="url(#gs)" opacity="0.67"/><ellipse cx="438.5" cy="65.0" rx="1.69" ry="1.93" fill="url(#gs)" opacity="0.70"/><ellipse cx="520.1" cy="93.9" rx="1.42" ry="1.81" fill="url(#gs)" opacity="0.90"/><ellipse cx="436.1" cy="14.9" rx="0.93" ry="1.27" fill="url(#gs)" opacity="0.76"/><ellipse cx="474.2" cy="15.5" rx="1.71" ry="2.14" fill="url(#gs)" opacity="0.82"/><ellipse cx="511.8" cy="86.0" rx="1.89" ry="2.34" fill="url(#gs)" opacity="0.58"/><ellipse cx="470.2" cy="95.1" rx="1.26" ry="1.20" fill="url(#gs)" opacity="0.70"/><ellipse cx="462.3" cy="37.5" rx="2.20" ry="1.89" fill="url(#gs)" opacity="0.87"/><ellipse cx="463.5" cy="98.4" rx="1.44" ry="1.31" fill="url(#gs)" opacity="0.78"/><ellipse cx="511.5" cy="66.9" rx="3.06" ry="2.81" fill="url(#gs)" opacity="0.92"/><ellipse cx="412.5" cy="44.5" rx="1.67" ry="2.10" fill="url(#gs)" opacity="0.82"/><ellipse cx="396.8" cy="19.4" rx="0.92" ry="0.90" fill="url(#gs)" opacity="0.72"/><ellipse cx="401.8" cy="111.3" rx="1.86" ry="1.76" fill="url(#gs)" opacity="0.80"/><ellipse cx="442.4" cy="119.1" rx="2.31" ry="1.70" fill="url(#gs)" opacity="0.56"/><ellipse cx="442.2" cy="19.8" rx="1.60" ry="1.67" fill="url(#gs)" opacity="0.61"/><ellipse cx="423.5" cy="7.7" rx="2.32" ry="2.70" fill="url(#gs)" opacity="0.78"/><ellipse cx="480.2" cy="40.1" rx="1.93" ry="1.76" fill="url(#gs)" opacity="0.73"/><ellipse cx="433.2" cy="9.7" rx="1.28" ry="1.67" fill="url(#gs)" opacity="0.94"/><ellipse cx="518.9" cy="100.5" rx="1.35" ry="1.63" fill="url(#gs)" opacity="0.99"/><ellipse cx="406.8" cy="5.7" rx="1.38" ry="1.12" fill="url(#gs)" opacity="0.92"/><ellipse cx="441.0" cy="111.3" rx="1.13" ry="1.54" fill="url(#gs)" opacity="0.79"/><ellipse cx="514.7" cy="12.4" rx="1.85" ry="1.82" fill="url(#gs)" opacity="0.55"/><ellipse cx="446.4" cy="121.9" rx="1.39" ry="1.25" fill="url(#gs)" opacity="0.97"/><ellipse cx="429.8" cy="70.6" rx="1.56" ry="1.57" fill="url(#gs)" opacity="0.94"/><ellipse cx="428.8" cy="101.1" rx="1.09" ry="0.83" fill="url(#gs)" opacity="0.68"/><ellipse cx="477.9" cy="32.7" rx="1.47" ry="2.04" fill="url(#gs)" opacity="0.54"/><ellipse cx="495.2" cy="45.8" rx="3.25" ry="2.85" fill="url(#gs)" opacity="0.90"/><ellipse cx="536.4" cy="113.4" rx="1.55" ry="1.84" fill="url(#gs)" opacity="0.87"/><ellipse cx="491.1" cy="103.6" rx="1.58" ry="1.22" fill="url(#gs)" opacity="0.93"/><ellipse cx="393.7" cy="67.8" rx="1.86" ry="1.55" fill="url(#gs)" opacity="0.59"/><ellipse cx="390.4" cy="15.8" rx="1.58" ry="1.97" fill="url(#gs)" opacity="0.93"/><ellipse cx="523.1" cy="25.4" rx="0.94" ry="0.86" fill="url(#gs)" opacity="0.51"/><ellipse cx="455.2" cy="32.7" rx="1.42" ry="1.33" fill="url(#gs)" opacity="0.85"/><ellipse cx="406.3" cy="31.1" rx="1.33" ry="1.32" fill="url(#gs)" opacity="0.74"/><ellipse cx="414.5" cy="52.1" rx="1.95" ry="1.52" fill="url(#gs)" opacity="0.55"/><ellipse cx="484.7" cy="58.0" rx="2.20" ry="2.14" fill="url(#gs)" opacity="0.69"/><ellipse cx="409.4" cy="76.6" rx="1.79" ry="1.94" fill="url(#gs)" opacity="0.80"/><ellipse cx="453.9" cy="26.8" rx="1.69" ry="1.74" fill="url(#gs)" opacity="0.78"/><ellipse cx="439.6" cy="31.1" rx="1.49" ry="1.78" fill="url(#gs)" opacity="1.00"/><ellipse cx="449.1" cy="114.8" rx="1.63" ry="1.25" fill="url(#gs)" opacity="0.67"/><ellipse cx="538.6" cy="12.6" rx="1.39" ry="1.33" fill="url(#gs)" opacity="0.96"/><ellipse cx="491.1" cy="5.2" rx="1.98" ry="2.47" fill="url(#gs)" opacity="0.82"/><ellipse cx="420.5" cy="105.2" rx="1.32" ry="1.46" fill="url(#gs)" opacity="0.77"/><ellipse cx="429.7" cy="96.2" rx="0.84" ry="1.04" fill="url(#gs)" opacity="0.75"/><ellipse cx="395.5" cy="40.0" rx="1.38" ry="1.81" fill="url(#gs)" opacity="0.70"/><ellipse cx="469.1" cy="54.3" rx="1.67" ry="1.66" fill="url(#gs)" opacity="0.87"/><ellipse cx="495.7" cy="21.6" rx="1.01" ry="0.99" fill="url(#gs)" opacity="0.66"/><ellipse cx="430.3" cy="112.7" rx="2.23" ry="1.96" fill="url(#gs)" opacity="0.99"/><ellipse cx="526.3" cy="100.3" rx="0.76" ry="0.99" fill="url(#gs)" opacity="0.90"/><ellipse cx="509.2" cy="97.6" rx="2.47" ry="2.46" fill="url(#gs)" opacity="0.76"/><ellipse cx="425.4" cy="105.3" rx="0.84" ry="1.25" fill="url(#gs)" opacity="0.71"/><ellipse cx="506.4" cy="98.8" rx="1.77" ry="1.87" fill="url(#gs)" opacity="0.98"/><ellipse cx="402.4" cy="92.8" rx="1.10" ry="1.40" fill="url(#gs)" opacity="0.53"/><ellipse cx="455.7" cy="20.0" rx="2.27" ry="2.11" fill="url(#gs)" opacity="0.88"/><ellipse cx="440.8" cy="53.4" rx="2.07" ry="1.66" fill="url(#gs)" opacity="0.92"/><ellipse cx="501.3" cy="72.1" rx="1.15" ry="1.17" fill="url(#gs)" opacity="0.66"/><ellipse cx="408.6" cy="10.7" rx="1.84" ry="1.55" fill="url(#gs)" opacity="0.86"/><ellipse cx="514.7" cy="77.4" rx="1.12" ry="1.06" fill="url(#gs)" opacity="0.57"/><ellipse cx="520.6" cy="79.0" rx="1.83" ry="2.03" fill="url(#gs)" opacity="0.53"/><ellipse cx="435.6" cy="68.2" rx="1.52" ry="1.56" fill="url(#gs)" opacity="0.79"/><ellipse cx="508.6" cy="47.9" rx="1.01" ry="0.77" fill="url(#gs)" opacity="0.56"/><ellipse cx="423.6" cy="82.0" rx="2.00" ry="2.25" fill="url(#gs)" opacity="0.69"/><ellipse cx="421.0" cy="5.3" rx="1.13" ry="1.17" fill="url(#gs)" opacity="0.68"/><ellipse cx="438.9" cy="7.2" rx="1.90" ry="1.53" fill="url(#gs)" opacity="0.62"/><ellipse cx="526.0" cy="58.5" rx="1.33" ry="0.97" fill="url(#gs)" opacity="0.75"/><ellipse cx="474.7" cy="18.7" rx="1.37" ry="1.35" fill="url(#gs)" opacity="0.81"/><ellipse cx="447.1" cy="13.1" rx="1.05" ry="1.07" fill="url(#gs)" opacity="0.54"/><ellipse cx="506.2" cy="25.1" rx="1.50" ry="1.48" fill="url(#gs)" opacity="0.92"/><ellipse cx="447.6" cy="114.5" rx="1.30" ry="1.08" fill="url(#gs)" opacity="0.69"/><ellipse cx="405.1" cy="98.2" rx="1.02" ry="1.18" fill="url(#gs)" opacity="0.82"/><ellipse cx="469.2" cy="104.9" rx="1.83" ry="1.56" fill="url(#gs)" opacity="0.62"/><ellipse cx="412.2" cy="14.0" rx="1.40" ry="1.10" fill="url(#gs)" opacity="0.61"/><ellipse cx="404.2" cy="71.2" rx="1.80" ry="1.45" fill="url(#gs)" opacity="0.79"/><ellipse cx="470.0" cy="44.8" rx="1.97" ry="2.07" fill="url(#gs)" opacity="0.92"/><ellipse cx="539.1" cy="95.0" rx="1.63" ry="1.83" fill="url(#gs)" opacity="0.99"/><ellipse cx="504.8" cy="30.3" rx="1.41" ry="1.76" fill="url(#gs)" opacity="0.61"/><ellipse cx="497.2" cy="62.3" rx="1.54" ry="1.69" fill="url(#gs)" opacity="1.00"/><ellipse cx="510.8" cy="35.9" rx="2.00" ry="1.67" fill="url(#gs)" opacity="0.68"/><ellipse cx="393.9" cy="60.0" rx="1.30" ry="1.53" fill="url(#gs)" opacity="0.54"/><ellipse cx="415.9" cy="56.9" rx="1.33" ry="1.26" fill="url(#gs)" opacity="0.57"/><ellipse cx="392.8" cy="70.5" rx="1.94" ry="1.92" fill="url(#gs)" opacity="0.87"/><ellipse cx="464.5" cy="98.1" rx="0.80" ry="0.86" fill="url(#gs)" opacity="0.70"/><ellipse cx="448.2" cy="118.0" rx="1.69" ry="1.51" fill="url(#gs)" opacity="0.80"/><ellipse cx="515.1" cy="44.1" rx="0.96" ry="0.97" fill="url(#gs)" opacity="0.53"/><ellipse cx="502.5" cy="48.7" rx="1.95" ry="1.58" fill="url(#gs)" opacity="0.64"/><ellipse cx="525.0" cy="31.0" rx="1.46" ry="1.04" fill="url(#gs)" opacity="0.61"/><ellipse cx="510.2" cy="13.8" rx="1.52" ry="1.56" fill="url(#gs)" opacity="0.56"/><ellipse cx="524.4" cy="46.8" rx="2.17" ry="1.86" fill="url(#gs)" opacity="0.63"/><ellipse cx="412.8" cy="63.1" rx="1.10" ry="0.99" fill="url(#gs)" opacity="0.93"/><ellipse cx="412.8" cy="61.2" rx="1.32" ry="1.71" fill="url(#gs)" opacity="0.86"/><ellipse cx="466.9" cy="76.3" rx="1.68" ry="2.35" fill="url(#gs)" opacity="0.58"/><ellipse cx="426.3" cy="21.0" rx="1.49" ry="1.50" fill="url(#gs)" opacity="0.57"/><ellipse cx="498.4" cy="67.9" rx="1.49" ry="1.49" fill="url(#gs)" opacity="0.99"/><ellipse cx="400.4" cy="50.5" rx="1.58" ry="1.67" fill="url(#gs)" opacity="0.57"/><ellipse cx="466.4" cy="118.2" rx="1.66" ry="1.93" fill="url(#gs)" opacity="0.76"/><ellipse cx="508.6" cy="26.8" rx="0.99" ry="1.29" fill="url(#gs)" opacity="0.55"/><ellipse cx="503.3" cy="54.6" rx="2.31" ry="1.79" fill="url(#gs)" opacity="0.52"/><ellipse cx="403.0" cy="13.9" rx="1.29" ry="1.48" fill="url(#gs)" opacity="0.52"/><ellipse cx="477.6" cy="57.2" rx="1.39" ry="1.10" fill="url(#gs)" opacity="0.55"/><ellipse cx="397.9" cy="35.8" rx="1.98" ry="1.91" fill="url(#gs)" opacity="0.56"/><ellipse cx="509.6" cy="94.2" rx="1.53" ry="1.24" fill="url(#gs)" opacity="0.61"/><ellipse cx="409.6" cy="76.4" rx="1.33" ry="1.33" fill="url(#gs)" opacity="0.99"/><ellipse cx="429.6" cy="35.9" rx="2.17" ry="2.25" fill="url(#gs)" opacity="0.78"/><ellipse cx="481.9" cy="5.7" rx="1.80" ry="1.64" fill="url(#gs)" opacity="0.56"/><ellipse cx="423.6" cy="81.4" rx="0.90" ry="1.11" fill="url(#gs)" opacity="0.77"/><ellipse cx="443.9" cy="117.8" rx="1.64" ry="1.82" fill="url(#gs)" opacity="0.68"/><ellipse cx="455.6" cy="72.6" rx="1.72" ry="1.55" fill="url(#gs)" opacity="0.74"/><ellipse cx="497.7" cy="7.4" rx="1.57" ry="1.70" fill="url(#gs)" opacity="0.73"/><ellipse cx="485.1" cy="38.8" rx="1.22" ry="1.07" fill="url(#gs)" opacity="0.88"/><ellipse cx="465.4" cy="46.6" rx="1.40" ry="1.42" fill="url(#gs)" opacity="0.62"/><ellipse cx="400.8" cy="78.9" rx="1.00" ry="0.87" fill="url(#gs)" opacity="0.72"/><ellipse cx="493.1" cy="23.7" rx="1.43" ry="1.38" fill="url(#gs)" opacity="0.55"/><ellipse cx="422.8" cy="35.0" rx="0.97" ry="1.10" fill="url(#gs)" opacity="0.78"/><ellipse cx="528.7" cy="59.9" rx="1.50" ry="1.79" fill="url(#gs)" opacity="0.74"/><ellipse cx="390.3" cy="46.4" rx="1.14" ry="1.13" fill="url(#gs)" opacity="0.96"/><ellipse cx="505.1" cy="15.2" rx="0.97" ry="0.99" fill="url(#gs)" opacity="0.75"/></g>
<g filter="url(#bl3)"><circle cx="427.6" cy="23.3" r="3.6" fill="url(#gb)"/><circle cx="501.7" cy="39.0" r="4.2" fill="url(#gb)"/><circle cx="437.8" cy="89.0" r="4.4" fill="url(#gb)"/><circle cx="471.0" cy="105.0" r="3.6" fill="url(#gb)"/><circle cx="535.0" cy="112.0" r="3.8" fill="url(#gb)"/><circle cx="493.0" cy="19.0" r="2.8" fill="url(#gb)"/><circle cx="392.0" cy="9.0" r="3.0" fill="url(#gb)"/><circle cx="452.0" cy="70.0" r="2.6" fill="url(#gb)"/><circle cx="415.0" cy="50.0" r="2.4" fill="url(#gb)"/><circle cx="520.0" cy="60.0" r="2.6" fill="url(#gb)"/><circle cx="480.0" cy="75.0" r="2.4" fill="url(#gb)"/><circle cx="405.0" cy="100.0" r="2.4" fill="url(#gb)"/><circle cx="510.0" cy="95.0" r="2.6" fill="url(#gb)"/><circle cx="460.0" cy="30.0" r="2.2" fill="url(#gb)"/></g>
</g>
<rect x="26.00" y="121.80" width="148.00" height="7.70" fill="#0a0a0a"/>
<line x1="34.50" y1="122.60" x2="34.50" y2="128.70" stroke="#b0b0b0" stroke-width="0.5"/>
<line x1="44.00" y1="122.60" x2="44.00" y2="128.70" stroke="#b0b0b0" stroke-width="0.5"/>
<line x1="58.80" y1="122.60" x2="58.80" y2="128.70" stroke="#b0b0b0" stroke-width="0.5"/>
<line x1="76.40" y1="122.60" x2="76.40" y2="128.70" stroke="#b0b0b0" stroke-width="0.5"/>
<line x1="96.00" y1="122.60" x2="96.00" y2="128.70" stroke="#b0b0b0" stroke-width="0.5"/>
<line x1="104.20" y1="122.60" x2="104.20" y2="128.70" stroke="#b0b0b0" stroke-width="0.5"/>
<line x1="119.00" y1="122.60" x2="119.00" y2="128.70" stroke="#b0b0b0" stroke-width="0.5"/>
<line x1="131.30" y1="122.60" x2="131.30" y2="128.70" stroke="#b0b0b0" stroke-width="0.5"/>
<text x="39.25" y="124.90" font-size="2.7" text-anchor="middle" class="bt" style="font-family:'Liberation Sans',sans-serif;font-weight:bold;fill:#f2f2f2">det</text>
<text x="39.25" y="127.90" font-size="2.7" text-anchor="middle" class="bt" style="font-family:'Liberation Sans',sans-serif;font-weight:bold;fill:#f2f2f2">TLD</text>
<text x="51.40" y="124.90" font-size="2.7" text-anchor="middle" class="bt" style="font-family:'Liberation Sans',sans-serif;font-weight:bold;fill:#f2f2f2">HV</text>
<text x="51.40" y="127.90" font-size="2.7" text-anchor="middle" class="bt" style="font-family:'Liberation Sans',sans-serif;font-weight:bold;fill:#f2f2f2">10.0 kV</text>
<text x="67.60" y="124.90" font-size="2.7" text-anchor="middle" class="bt" style="font-family:'Liberation Sans',sans-serif;font-weight:bold;fill:#f2f2f2">Landing E</text>
<text x="67.60" y="127.90" font-size="2.7" text-anchor="middle" class="bt" style="font-family:'Liberation Sans',sans-serif;font-weight:bold;fill:#f2f2f2">10.0 keV</text>
<text x="86.20" y="124.90" font-size="2.7" text-anchor="middle" class="bt" style="font-family:'Liberation Sans',sans-serif;font-weight:bold;fill:#f2f2f2">mag</text>
<text x="86.20" y="127.90" font-size="2.7" text-anchor="middle" class="bt" style="font-family:'Liberation Sans',sans-serif;font-weight:bold;fill:#f2f2f2">150 000 x</text>
<text x="100.10" y="124.90" font-size="2.7" text-anchor="middle" class="bt" style="font-family:'Liberation Sans',sans-serif;font-weight:bold;fill:#f2f2f2">spot</text>
<text x="100.10" y="127.90" font-size="2.7" text-anchor="middle" class="bt" style="font-family:'Liberation Sans',sans-serif;font-weight:bold;fill:#f2f2f2">2.0</text>
<text x="111.60" y="124.90" font-size="2.7" text-anchor="middle" class="bt" style="font-family:'Liberation Sans',sans-serif;font-weight:bold;fill:#f2f2f2">WD</text>
<text x="111.60" y="127.90" font-size="2.7" text-anchor="middle" class="bt" style="font-family:'Liberation Sans',sans-serif;font-weight:bold;fill:#f2f2f2">6.0 mm</text>
<text x="125.15" y="124.90" font-size="2.7" text-anchor="middle" class="bt" style="font-family:'Liberation Sans',sans-serif;font-weight:bold;fill:#f2f2f2">mode</text>
<text x="125.15" y="127.90" font-size="2.7" text-anchor="middle" class="bt" style="font-family:'Liberation Sans',sans-serif;font-weight:bold;fill:#f2f2f2">CN</text>
<circle cx="30.20" cy="125.65" r="1.9" fill="none" stroke="#e0e0e0" stroke-width="0.55"/>
<path d="M28.50 125.65 h3.4 M30.20 123.95 v3.4" stroke="#e0e0e0" stroke-width="0.5"/>
<text x="153.00" y="124.70" font-size="2.7" text-anchor="middle" class="bt" style="font-family:'Liberation Sans',sans-serif;font-weight:bold;fill:#f2f2f2">500 nm</text>
<line x1="140.00" y1="123.80" x2="145.00" y2="123.80" stroke="#bbb" stroke-width="0.4"/>
<line x1="161.00" y1="123.80" x2="166.00" y2="123.80" stroke="#bbb" stroke-width="0.4"/>
<line x1="133.00" y1="126.40" x2="172.00" y2="126.40" stroke="#999" stroke-width="0.4" stroke-dasharray="0.6 0.6"/>
<rect x="390.00" y="121.80" width="150.50" height="7.70" fill="#0a0a0a"/>
<line x1="398.64" y1="122.60" x2="398.64" y2="128.70" stroke="#b0b0b0" stroke-width="0.5"/>
<line x1="408.30" y1="122.60" x2="408.30" y2="128.70" stroke="#b0b0b0" stroke-width="0.5"/>
<line x1="423.35" y1="122.60" x2="423.35" y2="128.70" stroke="#b0b0b0" stroke-width="0.5"/>
<line x1="441.25" y1="122.60" x2="441.25" y2="128.70" stroke="#b0b0b0" stroke-width="0.5"/>
<line x1="461.18" y1="122.60" x2="461.18" y2="128.70" stroke="#b0b0b0" stroke-width="0.5"/>
<line x1="469.52" y1="122.60" x2="469.52" y2="128.70" stroke="#b0b0b0" stroke-width="0.5"/>
<line x1="484.57" y1="122.60" x2="484.57" y2="128.70" stroke="#b0b0b0" stroke-width="0.5"/>
<line x1="497.08" y1="122.60" x2="497.08" y2="128.70" stroke="#b0b0b0" stroke-width="0.5"/>
<text x="403.47" y="124.90" font-size="2.7" text-anchor="middle" class="bt" style="font-family:'Liberation Sans',sans-serif;font-weight:bold;fill:#f2f2f2">det</text>
<text x="403.47" y="127.90" font-size="2.7" text-anchor="middle" class="bt" style="font-family:'Liberation Sans',sans-serif;font-weight:bold;fill:#f2f2f2">TLD</text>
<text x="415.83" y="124.90" font-size="2.7" text-anchor="middle" class="bt" style="font-family:'Liberation Sans',sans-serif;font-weight:bold;fill:#f2f2f2">HV</text>
<text x="415.83" y="127.90" font-size="2.7" text-anchor="middle" class="bt" style="font-family:'Liberation Sans',sans-serif;font-weight:bold;fill:#f2f2f2">10.0 kV</text>
<text x="432.30" y="124.90" font-size="2.7" text-anchor="middle" class="bt" style="font-family:'Liberation Sans',sans-serif;font-weight:bold;fill:#f2f2f2">Landing E</text>
<text x="432.30" y="127.90" font-size="2.7" text-anchor="middle" class="bt" style="font-family:'Liberation Sans',sans-serif;font-weight:bold;fill:#f2f2f2">10.0 keV</text>
<text x="451.22" y="124.90" font-size="2.7" text-anchor="middle" class="bt" style="font-family:'Liberation Sans',sans-serif;font-weight:bold;fill:#f2f2f2">mag</text>
<text x="451.22" y="127.90" font-size="2.7" text-anchor="middle" class="bt" style="font-family:'Liberation Sans',sans-serif;font-weight:bold;fill:#f2f2f2">150 000 x</text>
<text x="465.35" y="124.90" font-size="2.7" text-anchor="middle" class="bt" style="font-family:'Liberation Sans',sans-serif;font-weight:bold;fill:#f2f2f2">spot</text>
<text x="465.35" y="127.90" font-size="2.7" text-anchor="middle" class="bt" style="font-family:'Liberation Sans',sans-serif;font-weight:bold;fill:#f2f2f2">2.0</text>
<text x="477.05" y="124.90" font-size="2.7" text-anchor="middle" class="bt" style="font-family:'Liberation Sans',sans-serif;font-weight:bold;fill:#f2f2f2">WD</text>
<text x="477.05" y="127.90" font-size="2.7" text-anchor="middle" class="bt" style="font-family:'Liberation Sans',sans-serif;font-weight:bold;fill:#f2f2f2">6.0 mm</text>
<text x="490.82" y="124.90" font-size="2.7" text-anchor="middle" class="bt" style="font-family:'Liberation Sans',sans-serif;font-weight:bold;fill:#f2f2f2">mode</text>
<text x="490.82" y="127.90" font-size="2.7" text-anchor="middle" class="bt" style="font-family:'Liberation Sans',sans-serif;font-weight:bold;fill:#f2f2f2">CN</text>
<circle cx="394.27" cy="125.65" r="1.9" fill="none" stroke="#e0e0e0" stroke-width="0.55"/>
<path d="M392.57 125.65 h3.4 M394.27 123.95 v3.4" stroke="#e0e0e0" stroke-width="0.5"/>
<text x="519.15" y="124.70" font-size="2.7" text-anchor="middle" class="bt" style="font-family:'Liberation Sans',sans-serif;font-weight:bold;fill:#f2f2f2">500 nm</text>
<line x1="505.93" y1="123.80" x2="511.01" y2="123.80" stroke="#bbb" stroke-width="0.4"/>
<line x1="527.28" y1="123.80" x2="532.36" y2="123.80" stroke="#bbb" stroke-width="0.4"/>
<line x1="498.81" y1="126.40" x2="538.47" y2="126.40" stroke="#999" stroke-width="0.4" stroke-dasharray="0.6 0.6"/>
<g fill="none" stroke-linejoin="round" stroke-linecap="round">
<path d="M27.30 196.90C27.75 196.72 27.88 196.17 30.00 195.80C32.12 195.43 35.00 195.08 40.00 194.70C45.00 194.32 53.67 193.90 60.00 193.50C66.33 193.10 74.33 192.58 78.00 192.30C81.67 192.02 81.17 192.08 82.00 191.80C82.83 191.52 82.58 190.87 83.00 190.60C83.42 190.33 83.67 190.33 84.50 190.20C85.33 190.07 86.92 190.13 88.00 189.80C89.08 189.47 90.00 188.92 91.00 188.20C92.00 187.48 93.18 186.30 94.00 185.50C94.82 184.70 95.15 184.40 95.90 183.40C96.65 182.40 97.75 180.73 98.50 179.50C99.25 178.27 99.87 177.25 100.40 176.00C100.93 174.75 101.17 173.25 101.70 172.00C102.23 170.75 102.98 169.67 103.60 168.50C104.22 167.33 104.78 166.32 105.40 165.00C106.02 163.68 106.65 161.83 107.30 160.60C107.95 159.37 108.58 158.32 109.30 157.60C110.02 156.88 110.82 156.40 111.60 156.30C112.38 156.20 113.18 156.62 114.00 157.00C114.82 157.38 115.73 158.10 116.50 158.60C117.27 159.10 117.45 158.90 118.60 160.00C119.75 161.10 121.50 163.72 123.40 165.20C125.30 166.68 127.23 167.73 130.00 168.90C132.77 170.07 136.67 171.38 140.00 172.20C143.33 173.02 147.50 173.53 150.00 173.80C152.50 174.07 153.00 174.07 155.00 173.80C157.00 173.53 159.83 172.97 162.00 172.20C164.17 171.43 166.00 170.48 168.00 169.20C170.00 167.92 173.00 165.28 174.00 164.50 M174.00 164.50C174.02 166.25 174.18 172.25 174.10 175.00C174.02 177.75 174.02 179.33 173.50 181.00C172.98 182.67 172.13 184.07 171.00 185.00C169.87 185.93 168.53 186.50 166.70 186.60C164.87 186.70 162.45 186.10 160.00 185.60C157.55 185.10 154.57 184.10 152.00 183.60C149.43 183.10 147.43 182.70 144.60 182.60C141.77 182.50 138.27 182.80 135.00 183.00C131.73 183.20 127.83 183.43 125.00 183.80C122.17 184.17 119.92 184.33 118.00 185.20C116.08 186.07 115.00 187.20 113.50 189.00C112.00 190.80 110.45 193.50 109.00 196.00C107.55 198.50 106.13 201.33 104.80 204.00C103.47 206.67 102.22 209.87 101.00 212.00C99.78 214.13 98.68 215.80 97.50 216.80C96.32 217.80 95.15 218.08 93.90 218.00C92.65 217.92 91.48 217.17 90.00 216.30C88.52 215.43 87.42 214.28 85.00 212.80C82.58 211.32 79.67 209.10 75.50 207.40C71.33 205.70 65.08 203.90 60.00 202.60C54.92 201.30 50.45 200.47 45.00 199.60C39.55 198.73 30.25 197.77 27.30 197.40" stroke="#4aa3ff" stroke-width="1.00"/>
<path d="M27.30 196.30C27.75 196.12 27.88 195.53 30.00 195.20C32.12 194.87 35.00 194.63 40.00 194.30C45.00 193.97 53.33 193.57 60.00 193.20C66.67 192.83 75.50 192.40 80.00 192.10C84.50 191.80 85.22 191.75 87.00 191.40C88.78 191.05 89.62 190.65 90.70 190.00C91.78 189.35 92.62 188.57 93.50 187.50C94.38 186.43 95.05 185.02 96.00 183.60C96.95 182.18 98.48 180.27 99.20 179.00C99.92 177.73 99.75 177.50 100.30 176.00C100.85 174.50 101.97 171.83 102.50 170.00C103.03 168.17 103.00 166.67 103.50 165.00C104.00 163.33 104.83 161.60 105.50 160.00C106.17 158.40 106.83 156.77 107.50 155.40C108.17 154.03 108.87 152.63 109.50 151.80C110.13 150.97 110.68 150.40 111.30 150.40C111.92 150.40 112.42 150.87 113.20 151.80C113.98 152.73 115.10 154.67 116.00 156.00C116.90 157.33 117.37 158.27 118.60 159.80C119.83 161.33 121.50 163.60 123.40 165.20C125.30 166.80 127.23 168.18 130.00 169.40C132.77 170.62 135.83 171.45 140.00 172.50C144.17 173.55 150.83 174.88 155.00 175.70C159.17 176.52 161.83 176.93 165.00 177.40C168.17 177.87 172.50 178.32 174.00 178.50 M174.00 178.50C172.50 178.75 168.17 179.58 165.00 180.00C161.83 180.42 159.17 180.53 155.00 181.00C150.83 181.47 144.17 182.30 140.00 182.80C135.83 183.30 132.83 183.57 130.00 184.00C127.17 184.43 124.83 184.77 123.00 185.40C121.17 186.03 120.17 186.82 119.00 187.80C117.83 188.78 117.00 189.85 116.00 191.30C115.00 192.75 114.08 194.30 113.00 196.50C111.92 198.70 110.67 201.67 109.50 204.50C108.33 207.33 107.17 210.62 106.00 213.50C104.83 216.38 103.50 219.82 102.50 221.80C101.50 223.78 100.70 224.67 100.00 225.40C99.30 226.13 98.97 226.23 98.30 226.20C97.63 226.17 96.88 225.90 96.00 225.20C95.12 224.50 94.00 223.10 93.00 222.00C92.00 220.90 91.18 219.82 90.00 218.60C88.82 217.38 87.57 216.00 85.90 214.70C84.23 213.40 81.73 211.85 80.00 210.80C78.27 209.75 78.00 209.40 75.50 208.40C73.00 207.40 68.67 205.80 65.00 204.80C61.33 203.80 57.67 203.05 53.50 202.40C49.33 201.75 44.37 201.30 40.00 200.90C35.63 200.50 29.42 200.15 27.30 200.00" stroke="#b9782c" stroke-width="1.00"/>
<path d="M27.30 196.60C27.75 196.43 27.88 195.95 30.00 195.60C32.12 195.25 35.00 194.88 40.00 194.50C45.00 194.12 52.83 193.73 60.00 193.30C67.17 192.87 77.67 192.28 83.00 191.90C88.33 191.52 89.60 191.38 92.00 191.00C94.40 190.62 95.77 190.63 97.40 189.60C99.03 188.57 100.45 186.45 101.80 184.80C103.15 183.15 104.58 181.17 105.50 179.70C106.42 178.23 106.55 177.62 107.30 176.00C108.05 174.38 109.10 171.83 110.00 170.00C110.90 168.17 111.87 166.42 112.70 165.00C113.53 163.58 114.20 162.43 115.00 161.50C115.80 160.57 116.53 159.90 117.50 159.40C118.47 158.90 119.72 158.50 120.80 158.50C121.88 158.50 122.80 158.85 124.00 159.40C125.20 159.95 126.50 160.83 128.00 161.80C129.50 162.77 131.00 163.88 133.00 165.20C135.00 166.52 137.50 168.43 140.00 169.70C142.50 170.97 145.50 171.95 148.00 172.80C150.50 173.65 152.17 174.07 155.00 174.80C157.83 175.53 161.83 176.58 165.00 177.20C168.17 177.82 172.50 178.28 174.00 178.50 M174.00 178.50C172.50 178.72 168.17 179.43 165.00 179.80C161.83 180.17 159.17 180.28 155.00 180.70C150.83 181.12 144.17 181.83 140.00 182.30C135.83 182.77 132.92 183.12 130.00 183.50C127.08 183.88 124.50 184.05 122.50 184.60C120.50 185.15 119.25 185.85 118.00 186.80C116.75 187.75 116.17 188.63 115.00 190.30C113.83 191.97 112.33 194.52 111.00 196.80C109.67 199.08 108.33 201.55 107.00 204.00C105.67 206.45 104.25 209.50 103.00 211.50C101.75 213.50 100.67 215.02 99.50 216.00C98.33 216.98 97.17 217.40 96.00 217.40C94.83 217.40 93.70 216.70 92.50 216.00C91.30 215.30 90.55 214.37 88.80 213.20C87.05 212.03 84.22 210.22 82.00 209.00C79.78 207.78 78.33 206.93 75.50 205.90C72.67 204.87 68.67 203.78 65.00 202.80C61.33 201.82 57.67 200.75 53.50 200.00C49.33 199.25 44.37 198.77 40.00 198.30C35.63 197.83 29.42 197.38 27.30 197.20" stroke="#2b2b2b" stroke-width="1.00"/>
</g>
<rect x="27.30" y="140.60" width="146.70" height="96.40" fill="none" stroke="#222" stroke-width="0.8"/>
<line x1="25.50" y1="140.60" x2="27.30" y2="140.60" stroke="#222" stroke-width="0.7"/>
<text x="24.30" y="143.00" font-size="5.80" text-anchor="end" >150</text>
<line x1="25.50" y1="156.67" x2="27.30" y2="156.67" stroke="#222" stroke-width="0.7"/>
<text x="24.30" y="159.07" font-size="5.80" text-anchor="end" >100</text>
<line x1="25.50" y1="172.73" x2="27.30" y2="172.73" stroke="#222" stroke-width="0.7"/>
<text x="24.30" y="175.13" font-size="5.80" text-anchor="end" >50</text>
<line x1="25.50" y1="188.80" x2="27.30" y2="188.80" stroke="#222" stroke-width="0.7"/>
<text x="24.30" y="191.20" font-size="5.80" text-anchor="end" >0</text>
<line x1="25.50" y1="204.87" x2="27.30" y2="204.87" stroke="#222" stroke-width="0.7"/>
<text x="24.30" y="207.27" font-size="5.80" text-anchor="end" >-50</text>
<line x1="25.50" y1="220.93" x2="27.30" y2="220.93" stroke="#222" stroke-width="0.7"/>
<text x="24.30" y="223.33" font-size="5.80" text-anchor="end" >-100</text>
<line x1="25.50" y1="237.00" x2="27.30" y2="237.00" stroke="#222" stroke-width="0.7"/>
<text x="24.30" y="239.40" font-size="5.80" text-anchor="end" >-150</text>
<line x1="27.30" y1="237.00" x2="27.30" y2="238.80" stroke="#222" stroke-width="0.7"/>
<text x="27.30" y="244.80" font-size="5.80" text-anchor="middle" >-0.4</text>
<line x1="56.64" y1="237.00" x2="56.64" y2="238.80" stroke="#222" stroke-width="0.7"/>
<text x="56.64" y="244.80" font-size="5.80" text-anchor="middle" >-0.2</text>
<line x1="85.98" y1="237.00" x2="85.98" y2="238.80" stroke="#222" stroke-width="0.7"/>
<text x="85.98" y="244.80" font-size="5.80" text-anchor="middle" >0.0</text>
<line x1="115.32" y1="237.00" x2="115.32" y2="238.80" stroke="#222" stroke-width="0.7"/>
<text x="115.32" y="244.80" font-size="5.80" text-anchor="middle" >0.2</text>
<line x1="144.66" y1="237.00" x2="144.66" y2="238.80" stroke="#222" stroke-width="0.7"/>
<text x="144.66" y="244.80" font-size="5.80" text-anchor="middle" >0.4</text>
<line x1="174.00" y1="237.00" x2="174.00" y2="238.80" stroke="#222" stroke-width="0.7"/>
<text x="174.00" y="244.80" font-size="5.80" text-anchor="middle" >0.6</text>
<text x="100.10" y="253.60" font-size="5.85" text-anchor="middle" >Potential (V)</text>
<text transform="translate(7.10 190.90) rotate(-90)" font-size="5.85" text-anchor="middle">Current (µA)</text>
<text x="5.90" y="143.50" font-size="6.2">(d)</text>
<line x1="30.30" y1="148.40" x2="34.10" y2="148.40" stroke="#2b2b2b" stroke-width="0.80"/>
<text x="35.90" y="149.90" font-size="4.55" text-anchor="start" >Bare</text>
<line x1="30.30" y1="154.85" x2="34.10" y2="154.85" stroke="#b9782c" stroke-width="0.80"/>
<text x="35.90" y="156.35" font-size="4.55" text-anchor="start" >AuNPs/N-Gr</text>
<line x1="30.30" y1="161.30" x2="34.10" y2="161.30" stroke="#4aa3ff" stroke-width="0.80"/>
<text x="35.90" y="162.80" font-size="4.55" text-anchor="start" >AuNPs/N-Gr/Cu<tspan font-size="2.8" dy="-1.3">2+</tspan></text>
<g fill="none" stroke-linejoin="round" stroke-linecap="round">
<path d="M210.60 232.50C210.65 229.58 210.77 220.42 210.90 215.00C211.03 209.58 211.17 204.17 211.40 200.00C211.63 195.83 211.77 193.17 212.30 190.00C212.83 186.83 213.85 183.22 214.60 181.00C215.35 178.78 215.45 177.95 216.80 176.70C218.15 175.45 219.25 174.35 222.70 173.50C226.15 172.65 232.62 172.07 237.50 171.60C242.38 171.13 247.08 170.97 252.00 170.70C256.92 170.43 263.05 170.35 267.00 170.00C270.95 169.65 273.53 169.20 275.70 168.60C277.87 168.00 278.52 167.30 280.00 166.40C281.48 165.50 283.10 164.50 284.60 163.20C286.10 161.90 287.85 159.62 289.00 158.60C290.15 157.58 290.75 157.43 291.50 157.10C292.25 156.77 292.83 156.63 293.50 156.60C294.17 156.57 294.83 156.67 295.50 156.90C296.17 157.13 296.75 157.57 297.50 158.00C298.25 158.43 299.00 158.93 300.00 159.50C301.00 160.07 302.17 160.85 303.50 161.40C304.83 161.95 306.25 162.42 308.00 162.80C309.75 163.18 311.33 163.40 314.00 163.70C316.67 164.00 320.50 164.52 324.00 164.60C327.50 164.68 331.33 164.50 335.00 164.20C338.67 163.90 342.40 163.43 346.00 162.80C349.60 162.17 354.83 160.80 356.60 160.40 M356.60 160.40C356.53 161.00 356.38 162.82 356.20 164.00C356.02 165.18 355.78 166.50 355.50 167.50C355.22 168.50 354.87 169.27 354.50 170.00C354.13 170.73 353.88 171.03 353.30 171.90C352.72 172.77 351.87 174.35 351.00 175.20C350.13 176.05 349.18 176.45 348.10 177.00C347.02 177.55 345.73 178.07 344.50 178.50C343.27 178.93 342.55 179.23 340.70 179.60C338.85 179.97 335.85 180.33 333.40 180.70C330.95 181.07 329.07 181.45 326.00 181.80C322.93 182.15 319.00 182.43 315.00 182.80C311.00 183.17 305.38 183.42 302.00 184.00C298.62 184.58 296.62 185.47 294.70 186.30C292.78 187.13 291.72 188.13 290.50 189.00C289.28 189.87 288.48 190.57 287.40 191.50C286.32 192.43 285.07 193.63 284.00 194.60C282.93 195.57 282.00 196.53 281.00 197.30C280.00 198.07 279.00 198.82 278.00 199.20C277.00 199.58 276.35 199.72 275.00 199.60C273.65 199.48 272.48 199.12 269.90 198.50C267.32 197.88 264.90 196.45 259.50 195.90C254.10 195.35 244.08 195.20 237.50 195.20C230.92 195.20 224.42 195.67 220.00 195.90C215.58 196.13 212.50 196.48 211.00 196.60" stroke="#ff58dc" stroke-width="1.05"/>
<path d="M210.10 181.40C212.58 181.35 218.02 181.22 225.00 181.10C231.98 180.98 244.67 180.88 252.00 180.70C259.33 180.52 265.00 180.45 269.00 180.00C273.00 179.55 274.00 178.87 276.00 178.00C278.00 177.13 279.33 175.97 281.00 174.80C282.67 173.63 284.42 172.08 286.00 171.00C287.58 169.92 289.17 168.90 290.50 168.30C291.83 167.70 292.83 167.47 294.00 167.40C295.17 167.33 296.33 167.58 297.50 167.90C298.67 168.22 299.75 168.78 301.00 169.30C302.25 169.82 303.58 170.50 305.00 171.00C306.42 171.50 306.33 171.80 309.50 172.30C312.67 172.80 318.92 173.50 324.00 174.00C329.08 174.50 334.57 174.97 340.00 175.30C345.43 175.63 353.83 175.88 356.60 176.00 M356.60 176.00C353.83 176.07 345.43 176.27 340.00 176.40C334.57 176.53 329.83 176.58 324.00 176.80C318.17 177.02 309.17 177.28 305.00 177.70C300.83 178.12 300.75 178.58 299.00 179.30C297.25 180.02 296.00 180.97 294.50 182.00C293.00 183.03 291.42 184.40 290.00 185.50C288.58 186.60 287.33 187.85 286.00 188.60C284.67 189.35 283.33 189.83 282.00 190.00C280.67 190.17 279.50 189.97 278.00 189.60C276.50 189.23 274.83 188.43 273.00 187.80C271.17 187.17 270.50 186.60 267.00 185.80C263.50 185.00 258.17 183.65 252.00 183.00C245.83 182.35 236.98 182.13 230.00 181.90C223.02 181.67 213.42 181.65 210.10 181.60" stroke="#b9782c" stroke-width="1.00"/>
<path d="M210.10 181.20C212.58 181.17 218.02 181.10 225.00 181.00C231.98 180.90 244.28 180.77 252.00 180.60C259.72 180.43 266.63 180.30 271.30 180.00C275.97 179.70 277.22 179.38 280.00 178.80C282.78 178.22 285.67 177.53 288.00 176.50C290.33 175.47 291.90 173.78 294.00 172.60C296.10 171.42 298.60 169.83 300.60 169.40C302.60 168.97 303.60 169.57 306.00 170.00C308.40 170.43 312.00 171.40 315.00 172.00C318.00 172.60 319.83 173.07 324.00 173.60C328.17 174.13 334.57 174.80 340.00 175.20C345.43 175.60 353.83 175.87 356.60 176.00 M356.60 176.00C353.83 176.03 345.43 176.12 340.00 176.20C334.57 176.28 329.83 176.32 324.00 176.50C318.17 176.68 309.38 176.88 305.00 177.30C300.62 177.72 299.70 178.30 297.70 179.00C295.70 179.70 294.62 180.58 293.00 181.50C291.38 182.42 289.50 183.58 288.00 184.50C286.50 185.42 285.33 186.45 284.00 187.00C282.67 187.55 281.50 187.80 280.00 187.80C278.50 187.80 277.17 187.47 275.00 187.00C272.83 186.53 270.83 185.73 267.00 185.00C263.17 184.27 258.17 183.17 252.00 182.60C245.83 182.03 236.98 181.80 230.00 181.60C223.02 181.40 213.42 181.43 210.10 181.40" stroke="#2b2b2b" stroke-width="1.00"/>
</g>
<rect x="210.10" y="140.60" width="146.70" height="96.40" fill="none" stroke="#222" stroke-width="0.8"/>
<line x1="208.30" y1="140.60" x2="210.10" y2="140.60" stroke="#222" stroke-width="0.7"/>
<text x="207.10" y="143.00" font-size="5.80" text-anchor="end" >400</text>
<line x1="208.30" y1="159.88" x2="210.10" y2="159.88" stroke="#222" stroke-width="0.7"/>
<text x="207.10" y="162.28" font-size="5.80" text-anchor="end" >200</text>
<line x1="208.30" y1="179.16" x2="210.10" y2="179.16" stroke="#222" stroke-width="0.7"/>
<text x="207.10" y="181.56" font-size="5.80" text-anchor="end" >0</text>
<line x1="208.30" y1="198.44" x2="210.10" y2="198.44" stroke="#222" stroke-width="0.7"/>
<text x="207.10" y="200.84" font-size="5.80" text-anchor="end" >-200</text>
<line x1="208.30" y1="217.72" x2="210.10" y2="217.72" stroke="#222" stroke-width="0.7"/>
<text x="207.10" y="220.12" font-size="5.80" text-anchor="end" >-400</text>
<line x1="208.30" y1="237.00" x2="210.10" y2="237.00" stroke="#222" stroke-width="0.7"/>
<text x="207.10" y="239.40" font-size="5.80" text-anchor="end" >-600</text>
<line x1="210.10" y1="237.00" x2="210.10" y2="238.80" stroke="#222" stroke-width="0.7"/>
<text x="210.10" y="244.80" font-size="5.80" text-anchor="middle" >-0.4</text>
<line x1="239.44" y1="237.00" x2="239.44" y2="238.80" stroke="#222" stroke-width="0.7"/>
<text x="239.44" y="244.80" font-size="5.80" text-anchor="middle" >-0.2</text>
<line x1="268.78" y1="237.00" x2="268.78" y2="238.80" stroke="#222" stroke-width="0.7"/>
<text x="268.78" y="244.80" font-size="5.80" text-anchor="middle" >0.0</text>
<line x1="298.12" y1="237.00" x2="298.12" y2="238.80" stroke="#222" stroke-width="0.7"/>
<text x="298.12" y="244.80" font-size="5.80" text-anchor="middle" >0.2</text>
<line x1="327.46" y1="237.00" x2="327.46" y2="238.80" stroke="#222" stroke-width="0.7"/>
<text x="327.46" y="244.80" font-size="5.80" text-anchor="middle" >0.4</text>
<line x1="356.80" y1="237.00" x2="356.80" y2="238.80" stroke="#222" stroke-width="0.7"/>
<text x="356.80" y="244.80" font-size="5.80" text-anchor="middle" >0.6</text>
<text x="282.70" y="253.60" font-size="5.85" text-anchor="middle" >Potential (V)</text>
<text transform="translate(189.60 186.40) rotate(-90)" font-size="5.85" text-anchor="middle">Current (µA)</text>
<text x="189.90" y="143.50" font-size="6.2">(e)</text>
<line x1="212.80" y1="146.20" x2="216.60" y2="146.20" stroke="#2b2b2b" stroke-width="0.80"/>
<text x="218.40" y="147.70" font-size="4.55" text-anchor="start" >Bare</text>
<line x1="212.80" y1="151.75" x2="216.60" y2="151.75" stroke="#b9782c" stroke-width="0.80"/>
<text x="218.40" y="153.25" font-size="4.55" text-anchor="start" >AuNPs/N-Gr</text>
<line x1="212.80" y1="157.30" x2="216.60" y2="157.30" stroke="#ff58dc" stroke-width="1.10"/>
<text x="218.40" y="158.80" font-size="4.55" text-anchor="start" >AuNPs/N-Gr/L-Cys</text>
<g fill="none" stroke-linejoin="round" stroke-linecap="round">
<path d="M395.00 206.00C395.07 204.83 395.17 200.75 395.40 199.00C395.63 197.25 396.10 197.07 396.40 195.50C396.70 193.93 396.70 191.08 397.20 189.60C397.70 188.12 397.82 187.27 399.40 186.60C400.98 185.93 400.57 185.85 406.70 185.60C412.83 185.35 428.98 185.23 436.20 185.10C443.42 184.97 446.32 184.92 450.00 184.80C453.68 184.68 455.70 184.80 458.30 184.40C460.90 184.00 463.82 182.97 465.60 182.40C467.38 181.83 467.93 181.48 469.00 181.00C470.07 180.52 471.05 179.98 472.00 179.50C472.95 179.02 473.77 178.47 474.70 178.10C475.63 177.73 476.63 177.37 477.60 177.30C478.57 177.23 479.43 177.43 480.50 177.70C481.57 177.97 482.92 178.52 484.00 178.90C485.08 179.28 485.83 179.67 487.00 180.00C488.17 180.33 488.83 180.60 491.00 180.90C493.17 181.20 496.47 181.58 500.00 181.80C503.53 182.02 507.20 182.12 512.20 182.20C517.20 182.28 525.10 182.30 530.00 182.30C534.90 182.30 539.67 182.22 541.60 182.20 M541.60 182.20C541.58 182.58 541.60 183.87 541.50 184.50C541.40 185.13 542.08 185.42 541.00 186.00C539.92 186.58 537.33 187.48 535.00 188.00C532.67 188.52 530.83 188.77 527.00 189.10C523.17 189.43 516.92 189.75 512.00 190.00C507.08 190.25 502.38 190.38 497.50 190.60C492.62 190.82 486.38 190.83 482.70 191.30C479.02 191.77 477.52 192.62 475.40 193.40C473.28 194.18 471.73 195.18 470.00 196.00C468.27 196.82 466.47 197.80 465.00 198.30C463.53 198.80 462.70 199.08 461.20 199.00C459.70 198.92 457.72 198.30 456.00 197.80C454.28 197.30 453.07 196.48 450.90 196.00C448.73 195.52 445.45 195.15 443.00 194.90C440.55 194.65 441.70 194.62 436.20 194.50C430.70 194.38 416.90 194.25 410.00 194.20C403.10 194.15 397.33 194.20 394.80 194.20" stroke="#5caeff" stroke-width="1.10"/>
<path d="M394.40 188.80C398.67 188.77 410.73 188.68 420.00 188.60C429.27 188.52 443.33 188.47 450.00 188.30C456.67 188.13 457.33 187.98 460.00 187.60C462.67 187.22 464.33 186.45 466.00 186.00C467.67 185.55 468.75 185.28 470.00 184.90C471.25 184.52 472.28 184.02 473.50 183.70C474.72 183.38 476.05 183.07 477.30 183.00C478.55 182.93 479.80 183.13 481.00 183.30C482.20 183.47 483.33 183.77 484.50 184.00C485.67 184.23 485.42 184.48 488.00 184.70C490.58 184.92 494.67 185.08 500.00 185.30C505.33 185.52 513.07 185.83 520.00 186.00C526.93 186.17 538.00 186.25 541.60 186.30 M541.60 186.30C538.00 186.42 527.35 186.78 520.00 187.00C512.65 187.22 503.72 187.35 497.50 187.60C491.28 187.85 486.28 188.05 482.70 188.50C479.12 188.95 478.12 189.68 476.00 190.30C473.88 190.92 471.83 191.72 470.00 192.20C468.17 192.68 466.67 193.10 465.00 193.20C463.33 193.30 462.17 193.17 460.00 192.80C457.83 192.43 455.33 191.50 452.00 191.00C448.67 190.50 445.33 190.10 440.00 189.80C434.67 189.50 427.60 189.33 420.00 189.20C412.40 189.07 398.67 189.03 394.40 189.00" stroke="#b9782c" stroke-width="1.00"/>
<path d="M394.40 188.60C398.67 188.58 410.73 188.57 420.00 188.50C429.27 188.43 443.00 188.32 450.00 188.20C457.00 188.08 458.67 188.03 462.00 187.80C465.33 187.57 467.33 187.22 470.00 186.80C472.67 186.38 475.38 185.70 478.00 185.30C480.62 184.90 482.03 184.42 485.70 184.40C489.37 184.38 494.28 184.95 500.00 185.20C505.72 185.45 513.07 185.72 520.00 185.90C526.93 186.08 538.00 186.23 541.60 186.30 M541.60 186.30C538.00 186.38 527.35 186.62 520.00 186.80C512.65 186.98 503.72 187.18 497.50 187.40C491.28 187.62 486.45 187.80 482.70 188.10C478.95 188.40 477.45 188.78 475.00 189.20C472.55 189.62 470.17 190.25 468.00 190.60C465.83 190.95 464.17 191.30 462.00 191.30C459.83 191.30 457.83 190.88 455.00 190.60C452.17 190.32 450.83 189.87 445.00 189.60C439.17 189.33 428.43 189.12 420.00 189.00C411.57 188.88 398.67 188.92 394.40 188.90" stroke="#2b2b2b" stroke-width="1.00"/>
<path d="M394.70 218.00C394.80 216.83 395.02 213.07 395.30 211.00C395.58 208.93 395.97 207.02 396.40 205.60C396.83 204.18 397.17 203.93 397.90 202.50C398.63 201.07 399.33 198.78 400.80 197.00C402.27 195.22 404.48 193.28 406.70 191.80C408.92 190.32 411.63 189.13 414.10 188.10C416.57 187.07 417.82 186.47 421.50 185.60C425.18 184.73 431.30 183.78 436.20 182.90C441.10 182.02 446.73 181.15 450.90 180.30C455.07 179.45 458.60 178.52 461.20 177.80C463.80 177.08 464.70 176.73 466.50 176.00C468.30 175.27 470.25 174.37 472.00 173.40C473.75 172.43 475.22 171.23 477.00 170.20C478.78 169.17 480.53 167.97 482.70 167.20C484.87 166.43 487.12 166.10 490.00 165.60C492.88 165.10 496.30 164.77 500.00 164.20C503.70 163.63 508.03 163.02 512.20 162.20C516.37 161.38 520.10 160.48 525.00 159.30C529.90 158.12 538.83 155.80 541.60 155.10 M541.60 155.10C541.12 156.58 539.63 161.35 538.70 164.00C537.77 166.65 536.98 168.87 536.00 171.00C535.02 173.13 534.30 174.57 532.80 176.80C531.30 179.03 528.97 182.15 527.00 184.40C525.03 186.65 523.47 188.58 521.00 190.30C518.53 192.02 516.12 193.23 512.20 194.70C508.28 196.17 502.42 197.92 497.50 199.10C492.58 200.28 486.63 200.98 482.70 201.80C478.77 202.62 476.68 203.10 473.90 204.00C471.12 204.90 468.12 206.37 466.00 207.20C463.88 208.03 463.03 208.53 461.20 209.00C459.37 209.47 457.20 209.78 455.00 210.00C452.80 210.22 451.13 210.42 448.00 210.30C444.87 210.18 440.03 209.72 436.20 209.30C432.37 208.88 428.68 208.28 425.00 207.80C421.32 207.32 417.60 206.75 414.10 206.40C410.60 206.05 406.95 205.83 404.00 205.70C401.05 205.57 397.67 205.62 396.40 205.60" stroke="#2a9d2f" stroke-width="1.15"/>
</g>
<rect x="394.40" y="139.30" width="147.00" height="97.50" fill="none" stroke="#222" stroke-width="0.8"/>
<line x1="392.60" y1="139.30" x2="394.40" y2="139.30" stroke="#222" stroke-width="0.7"/>
<text x="389.40" y="141.70" font-size="5.80" text-anchor="end" >1000</text>
<line x1="392.60" y1="163.68" x2="394.40" y2="163.68" stroke="#222" stroke-width="0.7"/>
<text x="389.40" y="166.08" font-size="5.80" text-anchor="end" >500</text>
<line x1="392.60" y1="188.05" x2="394.40" y2="188.05" stroke="#222" stroke-width="0.7"/>
<text x="389.40" y="190.45" font-size="5.80" text-anchor="end" >0</text>
<line x1="392.60" y1="212.43" x2="394.40" y2="212.43" stroke="#222" stroke-width="0.7"/>
<text x="389.40" y="214.83" font-size="5.80" text-anchor="end" >-500</text>
<line x1="392.60" y1="236.80" x2="394.40" y2="236.80" stroke="#222" stroke-width="0.7"/>
<text x="389.40" y="239.20" font-size="5.80" text-anchor="end" >-1000</text>
<line x1="394.40" y1="236.80" x2="394.40" y2="238.60" stroke="#222" stroke-width="0.7"/>
<text x="394.40" y="244.90" font-size="5.80" text-anchor="middle" >-0.4</text>
<line x1="423.80" y1="236.80" x2="423.80" y2="238.60" stroke="#222" stroke-width="0.7"/>
<text x="423.80" y="244.90" font-size="5.80" text-anchor="middle" >-0.2</text>
<line x1="453.20" y1="236.80" x2="453.20" y2="238.60" stroke="#222" stroke-width="0.7"/>
<text x="453.20" y="244.90" font-size="5.80" text-anchor="middle" >0.0</text>
<line x1="482.60" y1="236.80" x2="482.60" y2="238.60" stroke="#222" stroke-width="0.7"/>
<text x="482.60" y="244.90" font-size="5.80" text-anchor="middle" >0.2</text>
<line x1="512.00" y1="236.80" x2="512.00" y2="238.60" stroke="#222" stroke-width="0.7"/>
<text x="512.00" y="244.90" font-size="5.80" text-anchor="middle" >0.4</text>
<line x1="541.40" y1="236.80" x2="541.40" y2="238.60" stroke="#222" stroke-width="0.7"/>
<text x="541.40" y="244.90" font-size="5.80" text-anchor="middle" >0.6</text>
<text x="458.70" y="253.90" font-size="5.85" text-anchor="middle" >Potential (V)</text>
<text transform="translate(375.30 185.60) rotate(-90)" font-size="5.85" text-anchor="middle">Current (µA)</text>
<text x="370.40" y="143.00" font-size="6.2">(f)</text>
<line x1="398.60" y1="145.00" x2="402.40" y2="145.00" stroke="#2b2b2b" stroke-width="0.80"/>
<text x="404.20" y="146.50" font-size="4.55" text-anchor="start" >Bare</text>
<line x1="398.60" y1="151.82" x2="402.40" y2="151.82" stroke="#b9782c" stroke-width="0.80"/>
<text x="404.20" y="153.32" font-size="4.55" text-anchor="start" >AuNPs/N-Gr</text>
<line x1="398.60" y1="158.64" x2="402.40" y2="158.64" stroke="#5caeff" stroke-width="1.50"/>
<text x="404.20" y="160.14" font-size="4.55" text-anchor="start" >AuNPs/N-Gr/PEDOT:PSS</text>
<line x1="398.60" y1="165.46" x2="402.40" y2="165.46" stroke="#2a9d2f" stroke-width="0.90"/>
<text x="404.20" y="166.96" font-size="4.55" text-anchor="start" >AuNPs/N-Gr/PEDOT:PSS/PANI</text>
</svg></body></html>
